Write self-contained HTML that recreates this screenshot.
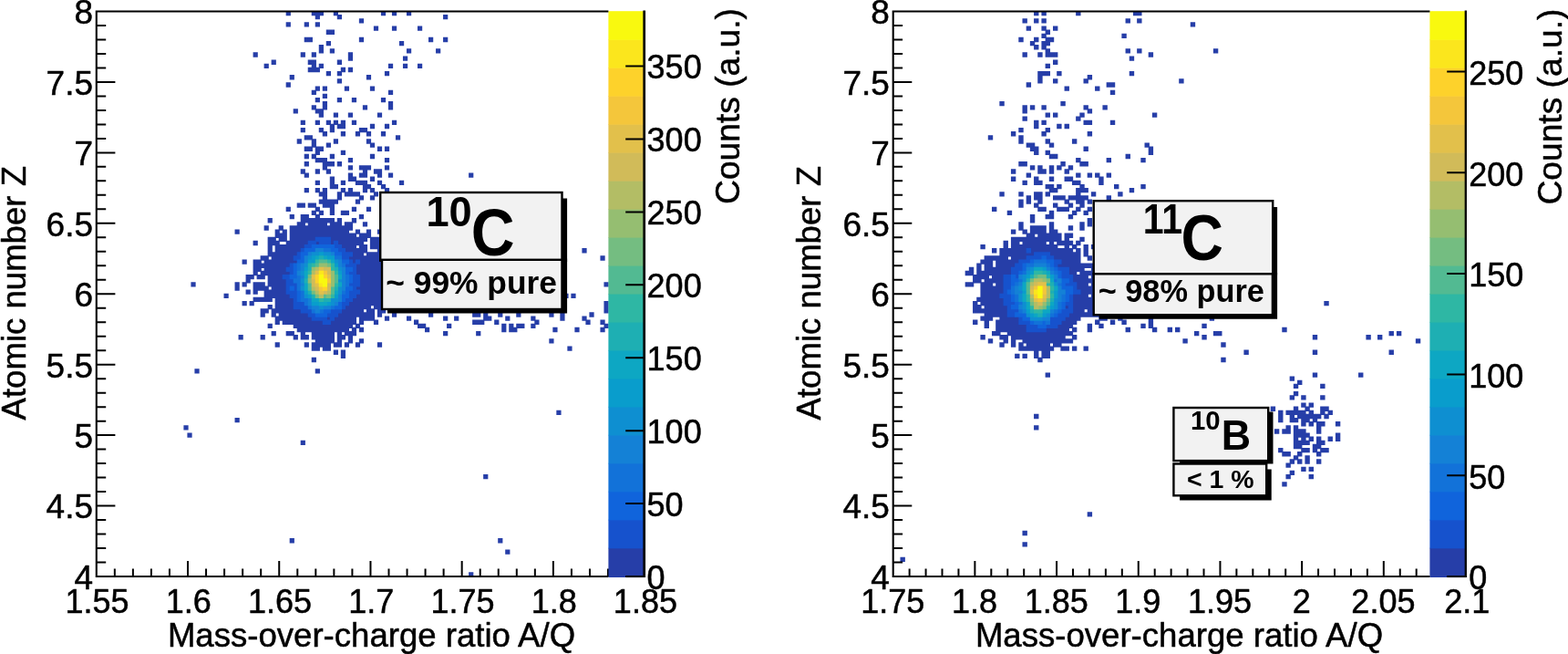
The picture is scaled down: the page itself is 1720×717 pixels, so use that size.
<!DOCTYPE html>
<html lang="en">
<head>
<meta charset="utf-8">
<title>Particle identification plots</title>
<style>
html,body{margin:0;padding:0;background:#fff;}
body{width:1720px;height:717px;overflow:hidden;}
svg{display:block;}
text{font-family:"Liberation Sans", sans-serif;}
</style>
</head>
<body>
<svg width="1720" height="717" viewBox="0 0 1720 717" role="img" aria-label="Particle identification plots: atomic number Z versus mass-over-charge ratio A/Q" font-family='"Liberation Sans", sans-serif' fill="#000">
<g>
<path fill="#263ea8" d="M201.42 466.2h5.21v5.33h-5.21zM205.43 474.46h5.21v5.33h-5.21zM209.43 309.26h5.21v5.33h-5.21zM213.44 404.25h5.21v5.33h-5.21zM245.52 321.65h5.21v5.33h-5.21zM257.54 457.94h5.21v5.33h-5.21zM257.54 313.39h5.21v5.33h-5.21zM257.54 309.26h5.21v5.33h-5.21zM257.54 251.44h5.21v5.33h-5.21zM261.55 367.08h5.21v5.33h-5.21zM265.56 329.91h5.21v5.33h-5.21zM265.56 309.26h5.21v5.33h-5.21zM265.56 284.48h5.21v5.33h-5.21zM269.57 317.52h5.21v5.33h-5.21zM269.57 305.13h5.21v5.33h-5.21zM269.57 301h5.21v5.33h-5.21zM273.58 329.91h5.21v5.33h-5.21zM273.58 301h5.21v5.33h-5.21zM277.59 325.78h5.21v5.33h-5.21zM277.59 317.52h5.21v5.33h-5.21zM277.59 313.39h5.21v5.33h-5.21zM277.59 309.26h5.21v5.33h-5.21zM277.59 296.87h5.21v5.33h-5.21zM277.59 292.74h5.21v5.33h-5.21zM277.59 288.61h5.21v5.33h-5.21zM277.59 284.48h5.21v5.33h-5.21zM277.59 263.83h5.21v5.33h-5.21zM277.59 57.33h5.21v5.33h-5.21zM281.6 325.78h5.21v5.33h-5.21zM281.6 313.39h5.21v5.33h-5.21zM281.6 309.26h5.21v5.33h-5.21zM281.6 301h5.21v5.33h-5.21zM281.6 292.74h5.21v5.33h-5.21zM281.6 288.61h5.21v5.33h-5.21zM281.6 284.48h5.21v5.33h-5.21zM285.61 367.08h5.21v5.33h-5.21zM285.61 342.3h5.21v5.33h-5.21zM285.61 338.17h5.21v5.33h-5.21zM285.61 325.78h5.21v5.33h-5.21zM285.61 313.39h5.21v5.33h-5.21zM285.61 309.26h5.21v5.33h-5.21zM285.61 301h5.21v5.33h-5.21zM285.61 296.87h5.21v5.33h-5.21zM285.61 288.61h5.21v5.33h-5.21zM285.61 280.35h5.21v5.33h-5.21zM289.61 338.17h5.21v5.33h-5.21zM289.61 325.78h5.21v5.33h-5.21zM289.61 321.65h5.21v5.33h-5.21zM289.61 317.52h5.21v5.33h-5.21zM289.61 313.39h5.21v5.33h-5.21zM289.61 296.87h5.21v5.33h-5.21zM289.61 292.74h5.21v5.33h-5.21zM289.61 288.61h5.21v5.33h-5.21zM289.61 284.48h5.21v5.33h-5.21zM289.61 280.35h5.21v5.33h-5.21zM289.61 247.31h5.21v5.33h-5.21zM289.61 69.72h5.21v5.33h-5.21zM293.62 354.69h5.21v5.33h-5.21zM293.62 334.04h5.21v5.33h-5.21zM293.62 325.78h5.21v5.33h-5.21zM293.62 321.65h5.21v5.33h-5.21zM293.62 317.52h5.21v5.33h-5.21zM293.62 309.26h5.21v5.33h-5.21zM293.62 305.13h5.21v5.33h-5.21zM293.62 301h5.21v5.33h-5.21zM293.62 296.87h5.21v5.33h-5.21zM293.62 292.74h5.21v5.33h-5.21zM293.62 288.61h5.21v5.33h-5.21zM293.62 284.48h5.21v5.33h-5.21zM293.62 276.22h5.21v5.33h-5.21zM293.62 272.09h5.21v5.33h-5.21zM293.62 267.96h5.21v5.33h-5.21zM293.62 263.83h5.21v5.33h-5.21zM293.62 259.7h5.21v5.33h-5.21zM293.62 239.05h5.21v5.33h-5.21zM297.63 362.95h5.21v5.33h-5.21zM297.63 342.3h5.21v5.33h-5.21zM297.63 338.17h5.21v5.33h-5.21zM297.63 321.65h5.21v5.33h-5.21zM297.63 317.52h5.21v5.33h-5.21zM297.63 313.39h5.21v5.33h-5.21zM297.63 309.26h5.21v5.33h-5.21zM297.63 305.13h5.21v5.33h-5.21zM297.63 301h5.21v5.33h-5.21zM297.63 296.87h5.21v5.33h-5.21zM297.63 292.74h5.21v5.33h-5.21zM297.63 288.61h5.21v5.33h-5.21zM297.63 284.48h5.21v5.33h-5.21zM297.63 280.35h5.21v5.33h-5.21zM297.63 276.22h5.21v5.33h-5.21zM297.63 263.83h5.21v5.33h-5.21zM297.63 259.7h5.21v5.33h-5.21zM297.63 65.59h5.21v5.33h-5.21zM301.64 375.34h5.21v5.33h-5.21zM301.64 350.56h5.21v5.33h-5.21zM301.64 346.43h5.21v5.33h-5.21zM301.64 338.17h5.21v5.33h-5.21zM301.64 334.04h5.21v5.33h-5.21zM301.64 329.91h5.21v5.33h-5.21zM301.64 325.78h5.21v5.33h-5.21zM301.64 321.65h5.21v5.33h-5.21zM301.64 317.52h5.21v5.33h-5.21zM301.64 313.39h5.21v5.33h-5.21zM301.64 309.26h5.21v5.33h-5.21zM301.64 305.13h5.21v5.33h-5.21zM301.64 301h5.21v5.33h-5.21zM301.64 296.87h5.21v5.33h-5.21zM301.64 292.74h5.21v5.33h-5.21zM301.64 288.61h5.21v5.33h-5.21zM301.64 284.48h5.21v5.33h-5.21zM301.64 280.35h5.21v5.33h-5.21zM301.64 276.22h5.21v5.33h-5.21zM301.64 272.09h5.21v5.33h-5.21zM301.64 267.96h5.21v5.33h-5.21zM301.64 263.83h5.21v5.33h-5.21zM301.64 255.57h5.21v5.33h-5.21zM301.64 251.44h5.21v5.33h-5.21zM305.65 346.43h5.21v5.33h-5.21zM305.65 342.3h5.21v5.33h-5.21zM305.65 338.17h5.21v5.33h-5.21zM305.65 334.04h5.21v5.33h-5.21zM305.65 329.91h5.21v5.33h-5.21zM305.65 325.78h5.21v5.33h-5.21zM305.65 321.65h5.21v5.33h-5.21zM305.65 317.52h5.21v5.33h-5.21zM305.65 313.39h5.21v5.33h-5.21zM305.65 309.26h5.21v5.33h-5.21zM305.65 305.13h5.21v5.33h-5.21zM305.65 301h5.21v5.33h-5.21zM305.65 296.87h5.21v5.33h-5.21zM305.65 292.74h5.21v5.33h-5.21zM305.65 288.61h5.21v5.33h-5.21zM305.65 284.48h5.21v5.33h-5.21zM305.65 280.35h5.21v5.33h-5.21zM305.65 276.22h5.21v5.33h-5.21zM305.65 272.09h5.21v5.33h-5.21zM305.65 267.96h5.21v5.33h-5.21zM305.65 259.7h5.21v5.33h-5.21zM305.65 255.57h5.21v5.33h-5.21zM305.65 247.31h5.21v5.33h-5.21zM309.66 350.56h5.21v5.33h-5.21zM309.66 346.43h5.21v5.33h-5.21zM309.66 342.3h5.21v5.33h-5.21zM309.66 338.17h5.21v5.33h-5.21zM309.66 334.04h5.21v5.33h-5.21zM309.66 329.91h5.21v5.33h-5.21zM309.66 325.78h5.21v5.33h-5.21zM309.66 321.65h5.21v5.33h-5.21zM309.66 317.52h5.21v5.33h-5.21zM309.66 313.39h5.21v5.33h-5.21zM309.66 309.26h5.21v5.33h-5.21zM309.66 305.13h5.21v5.33h-5.21zM309.66 296.87h5.21v5.33h-5.21zM309.66 292.74h5.21v5.33h-5.21zM309.66 288.61h5.21v5.33h-5.21zM309.66 284.48h5.21v5.33h-5.21zM309.66 280.35h5.21v5.33h-5.21zM309.66 276.22h5.21v5.33h-5.21zM309.66 272.09h5.21v5.33h-5.21zM309.66 267.96h5.21v5.33h-5.21zM309.66 259.7h5.21v5.33h-5.21zM309.66 255.57h5.21v5.33h-5.21zM309.66 251.44h5.21v5.33h-5.21zM313.67 362.95h5.21v5.33h-5.21zM313.67 350.56h5.21v5.33h-5.21zM313.67 346.43h5.21v5.33h-5.21zM313.67 342.3h5.21v5.33h-5.21zM313.67 338.17h5.21v5.33h-5.21zM313.67 334.04h5.21v5.33h-5.21zM313.67 329.91h5.21v5.33h-5.21zM313.67 325.78h5.21v5.33h-5.21zM313.67 321.65h5.21v5.33h-5.21zM313.67 296.87h5.21v5.33h-5.21zM313.67 288.61h5.21v5.33h-5.21zM313.67 284.48h5.21v5.33h-5.21zM313.67 280.35h5.21v5.33h-5.21zM313.67 276.22h5.21v5.33h-5.21zM313.67 272.09h5.21v5.33h-5.21zM313.67 267.96h5.21v5.33h-5.21zM313.67 263.83h5.21v5.33h-5.21zM313.67 226.66h5.21v5.33h-5.21zM313.67 90.37h5.21v5.33h-5.21zM313.67 24.29h5.21v5.33h-5.21zM313.67 11.9h5.21v5.33h-5.21zM317.68 590.1h5.21v5.33h-5.21zM317.68 362.95h5.21v5.33h-5.21zM317.68 350.56h5.21v5.33h-5.21zM317.68 346.43h5.21v5.33h-5.21zM317.68 342.3h5.21v5.33h-5.21zM317.68 338.17h5.21v5.33h-5.21zM317.68 334.04h5.21v5.33h-5.21zM317.68 329.91h5.21v5.33h-5.21zM317.68 325.78h5.21v5.33h-5.21zM317.68 284.48h5.21v5.33h-5.21zM317.68 280.35h5.21v5.33h-5.21zM317.68 276.22h5.21v5.33h-5.21zM317.68 272.09h5.21v5.33h-5.21zM317.68 267.96h5.21v5.33h-5.21zM317.68 263.83h5.21v5.33h-5.21zM317.68 259.7h5.21v5.33h-5.21zM317.68 255.57h5.21v5.33h-5.21zM317.68 251.44h5.21v5.33h-5.21zM317.68 247.31h5.21v5.33h-5.21zM317.68 234.92h5.21v5.33h-5.21zM317.68 82.11h5.21v5.33h-5.21zM321.69 367.08h5.21v5.33h-5.21zM321.69 354.69h5.21v5.33h-5.21zM321.69 350.56h5.21v5.33h-5.21zM321.69 346.43h5.21v5.33h-5.21zM321.69 342.3h5.21v5.33h-5.21zM321.69 338.17h5.21v5.33h-5.21zM321.69 284.48h5.21v5.33h-5.21zM321.69 276.22h5.21v5.33h-5.21zM321.69 272.09h5.21v5.33h-5.21zM321.69 267.96h5.21v5.33h-5.21zM321.69 263.83h5.21v5.33h-5.21zM321.69 259.7h5.21v5.33h-5.21zM321.69 255.57h5.21v5.33h-5.21zM321.69 251.44h5.21v5.33h-5.21zM321.69 247.31h5.21v5.33h-5.21zM321.69 119.28h5.21v5.33h-5.21zM325.69 358.82h5.21v5.33h-5.21zM325.69 354.69h5.21v5.33h-5.21zM325.69 350.56h5.21v5.33h-5.21zM325.69 346.43h5.21v5.33h-5.21zM325.69 342.3h5.21v5.33h-5.21zM325.69 338.17h5.21v5.33h-5.21zM325.69 272.09h5.21v5.33h-5.21zM325.69 267.96h5.21v5.33h-5.21zM325.69 263.83h5.21v5.33h-5.21zM325.69 259.7h5.21v5.33h-5.21zM325.69 255.57h5.21v5.33h-5.21zM325.69 251.44h5.21v5.33h-5.21zM325.69 247.31h5.21v5.33h-5.21zM325.69 243.18h5.21v5.33h-5.21zM325.69 222.53h5.21v5.33h-5.21zM325.69 152.32h5.21v5.33h-5.21zM329.7 482.72h5.21v5.33h-5.21zM329.7 367.08h5.21v5.33h-5.21zM329.7 362.95h5.21v5.33h-5.21zM329.7 358.82h5.21v5.33h-5.21zM329.7 354.69h5.21v5.33h-5.21zM329.7 350.56h5.21v5.33h-5.21zM329.7 346.43h5.21v5.33h-5.21zM329.7 342.3h5.21v5.33h-5.21zM329.7 267.96h5.21v5.33h-5.21zM329.7 263.83h5.21v5.33h-5.21zM329.7 259.7h5.21v5.33h-5.21zM329.7 255.57h5.21v5.33h-5.21zM329.7 251.44h5.21v5.33h-5.21zM329.7 247.31h5.21v5.33h-5.21zM329.7 243.18h5.21v5.33h-5.21zM329.7 239.05h5.21v5.33h-5.21zM329.7 234.92h5.21v5.33h-5.21zM329.7 222.53h5.21v5.33h-5.21zM329.7 185.36h5.21v5.33h-5.21zM329.7 139.93h5.21v5.33h-5.21zM329.7 131.67h5.21v5.33h-5.21zM329.7 57.33h5.21v5.33h-5.21zM333.71 375.34h5.21v5.33h-5.21zM333.71 367.08h5.21v5.33h-5.21zM333.71 358.82h5.21v5.33h-5.21zM333.71 354.69h5.21v5.33h-5.21zM333.71 350.56h5.21v5.33h-5.21zM333.71 346.43h5.21v5.33h-5.21zM333.71 342.3h5.21v5.33h-5.21zM333.71 263.83h5.21v5.33h-5.21zM333.71 259.7h5.21v5.33h-5.21zM333.71 255.57h5.21v5.33h-5.21zM333.71 251.44h5.21v5.33h-5.21zM333.71 247.31h5.21v5.33h-5.21zM333.71 239.05h5.21v5.33h-5.21zM333.71 234.92h5.21v5.33h-5.21zM333.71 206.01h5.21v5.33h-5.21zM333.71 189.49h5.21v5.33h-5.21zM333.71 177.1h5.21v5.33h-5.21zM333.71 168.84h5.21v5.33h-5.21zM333.71 160.58h5.21v5.33h-5.21zM333.71 148.19h5.21v5.33h-5.21zM333.71 40.81h5.21v5.33h-5.21zM333.71 24.29h5.21v5.33h-5.21zM337.72 358.82h5.21v5.33h-5.21zM337.72 354.69h5.21v5.33h-5.21zM337.72 350.56h5.21v5.33h-5.21zM337.72 346.43h5.21v5.33h-5.21zM337.72 259.7h5.21v5.33h-5.21zM337.72 255.57h5.21v5.33h-5.21zM337.72 251.44h5.21v5.33h-5.21zM337.72 247.31h5.21v5.33h-5.21zM337.72 243.18h5.21v5.33h-5.21zM337.72 239.05h5.21v5.33h-5.21zM337.72 222.53h5.21v5.33h-5.21zM337.72 160.58h5.21v5.33h-5.21zM337.72 148.19h5.21v5.33h-5.21zM337.72 73.85h5.21v5.33h-5.21zM337.72 65.59h5.21v5.33h-5.21zM337.72 40.81h5.21v5.33h-5.21zM341.73 391.86h5.21v5.33h-5.21zM341.73 379.47h5.21v5.33h-5.21zM341.73 375.34h5.21v5.33h-5.21zM341.73 367.08h5.21v5.33h-5.21zM341.73 362.95h5.21v5.33h-5.21zM341.73 358.82h5.21v5.33h-5.21zM341.73 354.69h5.21v5.33h-5.21zM341.73 350.56h5.21v5.33h-5.21zM341.73 259.7h5.21v5.33h-5.21zM341.73 255.57h5.21v5.33h-5.21zM341.73 251.44h5.21v5.33h-5.21zM341.73 247.31h5.21v5.33h-5.21zM341.73 243.18h5.21v5.33h-5.21zM341.73 239.05h5.21v5.33h-5.21zM341.73 230.79h5.21v5.33h-5.21zM341.73 222.53h5.21v5.33h-5.21zM341.73 168.84h5.21v5.33h-5.21zM341.73 156.45h5.21v5.33h-5.21zM341.73 152.32h5.21v5.33h-5.21zM341.73 115.15h5.21v5.33h-5.21zM341.73 98.63h5.21v5.33h-5.21zM341.73 73.85h5.21v5.33h-5.21zM341.73 69.72h5.21v5.33h-5.21zM341.73 65.59h5.21v5.33h-5.21zM341.73 57.33h5.21v5.33h-5.21zM341.73 11.9h5.21v5.33h-5.21zM345.74 404.25h5.21v5.33h-5.21zM345.74 379.47h5.21v5.33h-5.21zM345.74 375.34h5.21v5.33h-5.21zM345.74 371.21h5.21v5.33h-5.21zM345.74 367.08h5.21v5.33h-5.21zM345.74 362.95h5.21v5.33h-5.21zM345.74 358.82h5.21v5.33h-5.21zM345.74 354.69h5.21v5.33h-5.21zM345.74 350.56h5.21v5.33h-5.21zM345.74 263.83h5.21v5.33h-5.21zM345.74 255.57h5.21v5.33h-5.21zM345.74 251.44h5.21v5.33h-5.21zM345.74 247.31h5.21v5.33h-5.21zM345.74 243.18h5.21v5.33h-5.21zM345.74 239.05h5.21v5.33h-5.21zM345.74 234.92h5.21v5.33h-5.21zM345.74 226.66h5.21v5.33h-5.21zM345.74 206.01h5.21v5.33h-5.21zM345.74 197.75h5.21v5.33h-5.21zM345.74 185.36h5.21v5.33h-5.21zM345.74 172.97h5.21v5.33h-5.21zM345.74 164.71h5.21v5.33h-5.21zM345.74 160.58h5.21v5.33h-5.21zM345.74 131.67h5.21v5.33h-5.21zM345.74 119.28h5.21v5.33h-5.21zM345.74 106.89h5.21v5.33h-5.21zM345.74 94.5h5.21v5.33h-5.21zM345.74 73.85h5.21v5.33h-5.21zM345.74 24.29h5.21v5.33h-5.21zM345.74 16.03h5.21v5.33h-5.21zM345.74 11.9h5.21v5.33h-5.21zM349.75 375.34h5.21v5.33h-5.21zM349.75 371.21h5.21v5.33h-5.21zM349.75 367.08h5.21v5.33h-5.21zM349.75 362.95h5.21v5.33h-5.21zM349.75 358.82h5.21v5.33h-5.21zM349.75 354.69h5.21v5.33h-5.21zM349.75 350.56h5.21v5.33h-5.21zM349.75 255.57h5.21v5.33h-5.21zM349.75 251.44h5.21v5.33h-5.21zM349.75 247.31h5.21v5.33h-5.21zM349.75 243.18h5.21v5.33h-5.21zM349.75 239.05h5.21v5.33h-5.21zM349.75 230.79h5.21v5.33h-5.21zM349.75 218.4h5.21v5.33h-5.21zM349.75 210.14h5.21v5.33h-5.21zM349.75 172.97h5.21v5.33h-5.21zM349.75 160.58h5.21v5.33h-5.21zM349.75 139.93h5.21v5.33h-5.21zM349.75 123.41h5.21v5.33h-5.21zM349.75 119.28h5.21v5.33h-5.21zM349.75 69.72h5.21v5.33h-5.21zM349.75 53.2h5.21v5.33h-5.21zM349.75 49.07h5.21v5.33h-5.21zM349.75 11.9h5.21v5.33h-5.21zM353.76 379.47h5.21v5.33h-5.21zM353.76 375.34h5.21v5.33h-5.21zM353.76 371.21h5.21v5.33h-5.21zM353.76 367.08h5.21v5.33h-5.21zM353.76 362.95h5.21v5.33h-5.21zM353.76 358.82h5.21v5.33h-5.21zM353.76 354.69h5.21v5.33h-5.21zM353.76 255.57h5.21v5.33h-5.21zM353.76 251.44h5.21v5.33h-5.21zM353.76 247.31h5.21v5.33h-5.21zM353.76 243.18h5.21v5.33h-5.21zM353.76 239.05h5.21v5.33h-5.21zM353.76 222.53h5.21v5.33h-5.21zM353.76 218.4h5.21v5.33h-5.21zM353.76 214.27h5.21v5.33h-5.21zM353.76 210.14h5.21v5.33h-5.21zM353.76 206.01h5.21v5.33h-5.21zM353.76 181.23h5.21v5.33h-5.21zM353.76 177.1h5.21v5.33h-5.21zM353.76 172.97h5.21v5.33h-5.21zM353.76 144.06h5.21v5.33h-5.21zM353.76 115.15h5.21v5.33h-5.21zM353.76 111.02h5.21v5.33h-5.21zM353.76 102.76h5.21v5.33h-5.21zM353.76 94.5h5.21v5.33h-5.21zM357.77 379.47h5.21v5.33h-5.21zM357.77 375.34h5.21v5.33h-5.21zM357.77 371.21h5.21v5.33h-5.21zM357.77 367.08h5.21v5.33h-5.21zM357.77 362.95h5.21v5.33h-5.21zM357.77 358.82h5.21v5.33h-5.21zM357.77 354.69h5.21v5.33h-5.21zM357.77 346.43h5.21v5.33h-5.21zM357.77 255.57h5.21v5.33h-5.21zM357.77 251.44h5.21v5.33h-5.21zM357.77 247.31h5.21v5.33h-5.21zM357.77 239.05h5.21v5.33h-5.21zM357.77 222.53h5.21v5.33h-5.21zM357.77 218.4h5.21v5.33h-5.21zM357.77 185.36h5.21v5.33h-5.21zM357.77 177.1h5.21v5.33h-5.21zM357.77 156.45h5.21v5.33h-5.21zM357.77 131.67h5.21v5.33h-5.21zM357.77 77.98h5.21v5.33h-5.21zM357.77 44.94h5.21v5.33h-5.21zM357.77 32.55h5.21v5.33h-5.21zM361.78 371.21h5.21v5.33h-5.21zM361.78 367.08h5.21v5.33h-5.21zM361.78 362.95h5.21v5.33h-5.21zM361.78 358.82h5.21v5.33h-5.21zM361.78 354.69h5.21v5.33h-5.21zM361.78 350.56h5.21v5.33h-5.21zM361.78 263.83h5.21v5.33h-5.21zM361.78 259.7h5.21v5.33h-5.21zM361.78 255.57h5.21v5.33h-5.21zM361.78 251.44h5.21v5.33h-5.21zM361.78 247.31h5.21v5.33h-5.21zM361.78 243.18h5.21v5.33h-5.21zM361.78 239.05h5.21v5.33h-5.21zM361.78 230.79h5.21v5.33h-5.21zM361.78 226.66h5.21v5.33h-5.21zM361.78 222.53h5.21v5.33h-5.21zM361.78 218.4h5.21v5.33h-5.21zM361.78 201.88h5.21v5.33h-5.21zM361.78 197.75h5.21v5.33h-5.21zM361.78 193.62h5.21v5.33h-5.21zM361.78 177.1h5.21v5.33h-5.21zM361.78 168.84h5.21v5.33h-5.21zM361.78 139.93h5.21v5.33h-5.21zM361.78 135.8h5.21v5.33h-5.21zM361.78 53.2h5.21v5.33h-5.21zM361.78 32.55h5.21v5.33h-5.21zM365.79 383.6h5.21v5.33h-5.21zM365.79 375.34h5.21v5.33h-5.21zM365.79 358.82h5.21v5.33h-5.21zM365.79 354.69h5.21v5.33h-5.21zM365.79 350.56h5.21v5.33h-5.21zM365.79 346.43h5.21v5.33h-5.21zM365.79 259.7h5.21v5.33h-5.21zM365.79 255.57h5.21v5.33h-5.21zM365.79 251.44h5.21v5.33h-5.21zM365.79 247.31h5.21v5.33h-5.21zM365.79 243.18h5.21v5.33h-5.21zM365.79 218.4h5.21v5.33h-5.21zM365.79 201.88h5.21v5.33h-5.21zM365.79 152.32h5.21v5.33h-5.21zM365.79 131.67h5.21v5.33h-5.21zM365.79 123.41h5.21v5.33h-5.21zM365.79 11.9h5.21v5.33h-5.21zM369.79 375.34h5.21v5.33h-5.21zM369.79 371.21h5.21v5.33h-5.21zM369.79 367.08h5.21v5.33h-5.21zM369.79 362.95h5.21v5.33h-5.21zM369.79 358.82h5.21v5.33h-5.21zM369.79 354.69h5.21v5.33h-5.21zM369.79 350.56h5.21v5.33h-5.21zM369.79 346.43h5.21v5.33h-5.21zM369.79 342.3h5.21v5.33h-5.21zM369.79 263.83h5.21v5.33h-5.21zM369.79 259.7h5.21v5.33h-5.21zM369.79 255.57h5.21v5.33h-5.21zM369.79 251.44h5.21v5.33h-5.21zM369.79 247.31h5.21v5.33h-5.21zM369.79 243.18h5.21v5.33h-5.21zM369.79 239.05h5.21v5.33h-5.21zM369.79 214.27h5.21v5.33h-5.21zM369.79 210.14h5.21v5.33h-5.21zM369.79 177.1h5.21v5.33h-5.21zM369.79 135.8h5.21v5.33h-5.21zM369.79 106.89h5.21v5.33h-5.21zM369.79 86.24h5.21v5.33h-5.21zM369.79 77.98h5.21v5.33h-5.21zM369.79 65.59h5.21v5.33h-5.21zM369.79 16.03h5.21v5.33h-5.21zM373.8 387.73h5.21v5.33h-5.21zM373.8 383.6h5.21v5.33h-5.21zM373.8 367.08h5.21v5.33h-5.21zM373.8 358.82h5.21v5.33h-5.21zM373.8 354.69h5.21v5.33h-5.21zM373.8 350.56h5.21v5.33h-5.21zM373.8 346.43h5.21v5.33h-5.21zM373.8 342.3h5.21v5.33h-5.21zM373.8 338.17h5.21v5.33h-5.21zM373.8 267.96h5.21v5.33h-5.21zM373.8 263.83h5.21v5.33h-5.21zM373.8 259.7h5.21v5.33h-5.21zM373.8 255.57h5.21v5.33h-5.21zM373.8 251.44h5.21v5.33h-5.21zM373.8 247.31h5.21v5.33h-5.21zM373.8 230.79h5.21v5.33h-5.21zM373.8 206.01h5.21v5.33h-5.21zM373.8 197.75h5.21v5.33h-5.21zM373.8 164.71h5.21v5.33h-5.21zM373.8 144.06h5.21v5.33h-5.21zM373.8 135.8h5.21v5.33h-5.21zM373.8 131.67h5.21v5.33h-5.21zM373.8 73.85h5.21v5.33h-5.21zM377.81 375.34h5.21v5.33h-5.21zM377.81 362.95h5.21v5.33h-5.21zM377.81 358.82h5.21v5.33h-5.21zM377.81 354.69h5.21v5.33h-5.21zM377.81 350.56h5.21v5.33h-5.21zM377.81 346.43h5.21v5.33h-5.21zM377.81 342.3h5.21v5.33h-5.21zM377.81 338.17h5.21v5.33h-5.21zM377.81 334.04h5.21v5.33h-5.21zM377.81 272.09h5.21v5.33h-5.21zM377.81 267.96h5.21v5.33h-5.21zM377.81 263.83h5.21v5.33h-5.21zM377.81 259.7h5.21v5.33h-5.21zM377.81 255.57h5.21v5.33h-5.21zM377.81 251.44h5.21v5.33h-5.21zM377.81 247.31h5.21v5.33h-5.21zM377.81 243.18h5.21v5.33h-5.21zM377.81 230.79h5.21v5.33h-5.21zM377.81 210.14h5.21v5.33h-5.21zM377.81 94.5h5.21v5.33h-5.21zM381.82 371.21h5.21v5.33h-5.21zM381.82 367.08h5.21v5.33h-5.21zM381.82 362.95h5.21v5.33h-5.21zM381.82 354.69h5.21v5.33h-5.21zM381.82 350.56h5.21v5.33h-5.21zM381.82 346.43h5.21v5.33h-5.21zM381.82 342.3h5.21v5.33h-5.21zM381.82 338.17h5.21v5.33h-5.21zM381.82 334.04h5.21v5.33h-5.21zM381.82 329.91h5.21v5.33h-5.21zM381.82 280.35h5.21v5.33h-5.21zM381.82 272.09h5.21v5.33h-5.21zM381.82 267.96h5.21v5.33h-5.21zM381.82 263.83h5.21v5.33h-5.21zM381.82 259.7h5.21v5.33h-5.21zM381.82 255.57h5.21v5.33h-5.21zM381.82 247.31h5.21v5.33h-5.21zM381.82 243.18h5.21v5.33h-5.21zM381.82 210.14h5.21v5.33h-5.21zM381.82 206.01h5.21v5.33h-5.21zM381.82 193.62h5.21v5.33h-5.21zM381.82 189.49h5.21v5.33h-5.21zM381.82 181.23h5.21v5.33h-5.21zM381.82 172.97h5.21v5.33h-5.21zM381.82 123.41h5.21v5.33h-5.21zM381.82 73.85h5.21v5.33h-5.21zM381.82 61.46h5.21v5.33h-5.21zM381.82 57.33h5.21v5.33h-5.21zM385.83 362.95h5.21v5.33h-5.21zM385.83 358.82h5.21v5.33h-5.21zM385.83 350.56h5.21v5.33h-5.21zM385.83 346.43h5.21v5.33h-5.21zM385.83 342.3h5.21v5.33h-5.21zM385.83 338.17h5.21v5.33h-5.21zM385.83 334.04h5.21v5.33h-5.21zM385.83 329.91h5.21v5.33h-5.21zM385.83 325.78h5.21v5.33h-5.21zM385.83 284.48h5.21v5.33h-5.21zM385.83 280.35h5.21v5.33h-5.21zM385.83 276.22h5.21v5.33h-5.21zM385.83 272.09h5.21v5.33h-5.21zM385.83 267.96h5.21v5.33h-5.21zM385.83 263.83h5.21v5.33h-5.21zM385.83 259.7h5.21v5.33h-5.21zM385.83 255.57h5.21v5.33h-5.21zM385.83 239.05h5.21v5.33h-5.21zM385.83 226.66h5.21v5.33h-5.21zM385.83 210.14h5.21v5.33h-5.21zM385.83 193.62h5.21v5.33h-5.21zM385.83 131.67h5.21v5.33h-5.21zM385.83 106.89h5.21v5.33h-5.21zM389.84 375.34h5.21v5.33h-5.21zM389.84 354.69h5.21v5.33h-5.21zM389.84 342.3h5.21v5.33h-5.21zM389.84 338.17h5.21v5.33h-5.21zM389.84 334.04h5.21v5.33h-5.21zM389.84 329.91h5.21v5.33h-5.21zM389.84 325.78h5.21v5.33h-5.21zM389.84 321.65h5.21v5.33h-5.21zM389.84 313.39h5.21v5.33h-5.21zM389.84 296.87h5.21v5.33h-5.21zM389.84 292.74h5.21v5.33h-5.21zM389.84 288.61h5.21v5.33h-5.21zM389.84 280.35h5.21v5.33h-5.21zM389.84 276.22h5.21v5.33h-5.21zM389.84 272.09h5.21v5.33h-5.21zM389.84 263.83h5.21v5.33h-5.21zM389.84 259.7h5.21v5.33h-5.21zM389.84 251.44h5.21v5.33h-5.21zM389.84 218.4h5.21v5.33h-5.21zM389.84 210.14h5.21v5.33h-5.21zM389.84 197.75h5.21v5.33h-5.21zM389.84 144.06h5.21v5.33h-5.21zM393.85 371.21h5.21v5.33h-5.21zM393.85 358.82h5.21v5.33h-5.21zM393.85 350.56h5.21v5.33h-5.21zM393.85 346.43h5.21v5.33h-5.21zM393.85 342.3h5.21v5.33h-5.21zM393.85 338.17h5.21v5.33h-5.21zM393.85 334.04h5.21v5.33h-5.21zM393.85 329.91h5.21v5.33h-5.21zM393.85 325.78h5.21v5.33h-5.21zM393.85 321.65h5.21v5.33h-5.21zM393.85 317.52h5.21v5.33h-5.21zM393.85 313.39h5.21v5.33h-5.21zM393.85 309.26h5.21v5.33h-5.21zM393.85 305.13h5.21v5.33h-5.21zM393.85 301h5.21v5.33h-5.21zM393.85 296.87h5.21v5.33h-5.21zM393.85 292.74h5.21v5.33h-5.21zM393.85 288.61h5.21v5.33h-5.21zM393.85 284.48h5.21v5.33h-5.21zM393.85 280.35h5.21v5.33h-5.21zM393.85 276.22h5.21v5.33h-5.21zM393.85 272.09h5.21v5.33h-5.21zM393.85 267.96h5.21v5.33h-5.21zM393.85 263.83h5.21v5.33h-5.21zM393.85 259.7h5.21v5.33h-5.21zM393.85 255.57h5.21v5.33h-5.21zM393.85 234.92h5.21v5.33h-5.21zM393.85 214.27h5.21v5.33h-5.21zM393.85 197.75h5.21v5.33h-5.21zM393.85 189.49h5.21v5.33h-5.21zM393.85 181.23h5.21v5.33h-5.21zM393.85 139.93h5.21v5.33h-5.21zM393.85 40.81h5.21v5.33h-5.21zM393.85 20.16h5.21v5.33h-5.21zM397.86 346.43h5.21v5.33h-5.21zM397.86 342.3h5.21v5.33h-5.21zM397.86 334.04h5.21v5.33h-5.21zM397.86 329.91h5.21v5.33h-5.21zM397.86 325.78h5.21v5.33h-5.21zM397.86 321.65h5.21v5.33h-5.21zM397.86 317.52h5.21v5.33h-5.21zM397.86 313.39h5.21v5.33h-5.21zM397.86 309.26h5.21v5.33h-5.21zM397.86 305.13h5.21v5.33h-5.21zM397.86 301h5.21v5.33h-5.21zM397.86 296.87h5.21v5.33h-5.21zM397.86 292.74h5.21v5.33h-5.21zM397.86 288.61h5.21v5.33h-5.21zM397.86 284.48h5.21v5.33h-5.21zM397.86 280.35h5.21v5.33h-5.21zM397.86 272.09h5.21v5.33h-5.21zM397.86 267.96h5.21v5.33h-5.21zM397.86 259.7h5.21v5.33h-5.21zM397.86 255.57h5.21v5.33h-5.21zM397.86 243.18h5.21v5.33h-5.21zM397.86 206.01h5.21v5.33h-5.21zM397.86 201.88h5.21v5.33h-5.21zM397.86 197.75h5.21v5.33h-5.21zM397.86 189.49h5.21v5.33h-5.21zM397.86 185.36h5.21v5.33h-5.21zM397.86 181.23h5.21v5.33h-5.21zM397.86 139.93h5.21v5.33h-5.21zM397.86 115.15h5.21v5.33h-5.21zM401.87 346.43h5.21v5.33h-5.21zM401.87 342.3h5.21v5.33h-5.21zM401.87 338.17h5.21v5.33h-5.21zM401.87 334.04h5.21v5.33h-5.21zM401.87 329.91h5.21v5.33h-5.21zM401.87 325.78h5.21v5.33h-5.21zM401.87 321.65h5.21v5.33h-5.21zM401.87 317.52h5.21v5.33h-5.21zM401.87 313.39h5.21v5.33h-5.21zM401.87 309.26h5.21v5.33h-5.21zM401.87 305.13h5.21v5.33h-5.21zM401.87 301h5.21v5.33h-5.21zM401.87 296.87h5.21v5.33h-5.21zM401.87 292.74h5.21v5.33h-5.21zM401.87 288.61h5.21v5.33h-5.21zM401.87 284.48h5.21v5.33h-5.21zM401.87 280.35h5.21v5.33h-5.21zM401.87 276.22h5.21v5.33h-5.21zM401.87 255.57h5.21v5.33h-5.21zM401.87 251.44h5.21v5.33h-5.21zM401.87 226.66h5.21v5.33h-5.21zM401.87 201.88h5.21v5.33h-5.21zM401.87 181.23h5.21v5.33h-5.21zM401.87 152.32h5.21v5.33h-5.21zM401.87 144.06h5.21v5.33h-5.21zM401.87 82.11h5.21v5.33h-5.21zM405.88 346.43h5.21v5.33h-5.21zM405.88 342.3h5.21v5.33h-5.21zM405.88 338.17h5.21v5.33h-5.21zM405.88 329.91h5.21v5.33h-5.21zM405.88 325.78h5.21v5.33h-5.21zM405.88 321.65h5.21v5.33h-5.21zM405.88 317.52h5.21v5.33h-5.21zM405.88 313.39h5.21v5.33h-5.21zM405.88 309.26h5.21v5.33h-5.21zM405.88 305.13h5.21v5.33h-5.21zM405.88 301h5.21v5.33h-5.21zM405.88 296.87h5.21v5.33h-5.21zM405.88 292.74h5.21v5.33h-5.21zM405.88 288.61h5.21v5.33h-5.21zM405.88 284.48h5.21v5.33h-5.21zM405.88 280.35h5.21v5.33h-5.21zM405.88 276.22h5.21v5.33h-5.21zM405.88 267.96h5.21v5.33h-5.21zM405.88 263.83h5.21v5.33h-5.21zM405.88 259.7h5.21v5.33h-5.21zM405.88 214.27h5.21v5.33h-5.21zM405.88 206.01h5.21v5.33h-5.21zM405.88 193.62h5.21v5.33h-5.21zM405.88 168.84h5.21v5.33h-5.21zM405.88 156.45h5.21v5.33h-5.21zM405.88 135.8h5.21v5.33h-5.21zM405.88 94.5h5.21v5.33h-5.21zM409.88 350.56h5.21v5.33h-5.21zM409.88 334.04h5.21v5.33h-5.21zM409.88 329.91h5.21v5.33h-5.21zM409.88 325.78h5.21v5.33h-5.21zM409.88 321.65h5.21v5.33h-5.21zM409.88 317.52h5.21v5.33h-5.21zM409.88 313.39h5.21v5.33h-5.21zM409.88 309.26h5.21v5.33h-5.21zM409.88 305.13h5.21v5.33h-5.21zM409.88 301h5.21v5.33h-5.21zM409.88 296.87h5.21v5.33h-5.21zM409.88 292.74h5.21v5.33h-5.21zM409.88 288.61h5.21v5.33h-5.21zM409.88 284.48h5.21v5.33h-5.21zM409.88 280.35h5.21v5.33h-5.21zM409.88 276.22h5.21v5.33h-5.21zM409.88 267.96h5.21v5.33h-5.21zM409.88 263.83h5.21v5.33h-5.21zM409.88 259.7h5.21v5.33h-5.21zM409.88 210.14h5.21v5.33h-5.21zM409.88 185.36h5.21v5.33h-5.21zM409.88 28.42h5.21v5.33h-5.21zM413.89 375.34h5.21v5.33h-5.21zM413.89 342.3h5.21v5.33h-5.21zM413.89 338.17h5.21v5.33h-5.21zM413.89 334.04h5.21v5.33h-5.21zM413.89 329.91h5.21v5.33h-5.21zM413.89 325.78h5.21v5.33h-5.21zM413.89 321.65h5.21v5.33h-5.21zM413.89 317.52h5.21v5.33h-5.21zM413.89 313.39h5.21v5.33h-5.21zM413.89 309.26h5.21v5.33h-5.21zM413.89 305.13h5.21v5.33h-5.21zM413.89 301h5.21v5.33h-5.21zM413.89 296.87h5.21v5.33h-5.21zM413.89 292.74h5.21v5.33h-5.21zM413.89 288.61h5.21v5.33h-5.21zM413.89 284.48h5.21v5.33h-5.21zM413.89 280.35h5.21v5.33h-5.21zM413.89 276.22h5.21v5.33h-5.21zM413.89 272.09h5.21v5.33h-5.21zM413.89 267.96h5.21v5.33h-5.21zM413.89 263.83h5.21v5.33h-5.21zM413.89 259.7h5.21v5.33h-5.21zM413.89 251.44h5.21v5.33h-5.21zM413.89 197.75h5.21v5.33h-5.21zM413.89 189.49h5.21v5.33h-5.21zM413.89 185.36h5.21v5.33h-5.21zM413.89 160.58h5.21v5.33h-5.21zM413.89 123.41h5.21v5.33h-5.21zM417.9 338.17h5.21v5.33h-5.21zM417.9 201.88h5.21v5.33h-5.21zM417.9 144.06h5.21v5.33h-5.21zM417.9 106.89h5.21v5.33h-5.21zM417.9 11.9h5.21v5.33h-5.21zM421.91 346.43h5.21v5.33h-5.21zM421.91 206.01h5.21v5.33h-5.21zM421.91 181.23h5.21v5.33h-5.21zM421.91 172.97h5.21v5.33h-5.21zM421.91 160.58h5.21v5.33h-5.21zM421.91 135.8h5.21v5.33h-5.21zM421.91 77.98h5.21v5.33h-5.21zM425.92 189.49h5.21v5.33h-5.21zM425.92 115.15h5.21v5.33h-5.21zM425.92 111.02h5.21v5.33h-5.21zM425.92 98.63h5.21v5.33h-5.21zM425.92 69.72h5.21v5.33h-5.21zM429.93 342.3h5.21v5.33h-5.21zM429.93 131.67h5.21v5.33h-5.21zM429.93 28.42h5.21v5.33h-5.21zM429.93 11.9h5.21v5.33h-5.21zM433.94 148.19h5.21v5.33h-5.21zM437.95 197.75h5.21v5.33h-5.21zM437.95 44.94h5.21v5.33h-5.21zM441.96 69.72h5.21v5.33h-5.21zM441.96 61.46h5.21v5.33h-5.21zM445.97 346.43h5.21v5.33h-5.21zM445.97 53.2h5.21v5.33h-5.21zM445.97 11.9h5.21v5.33h-5.21zM453.98 350.56h5.21v5.33h-5.21zM457.99 354.69h5.21v5.33h-5.21zM457.99 69.72h5.21v5.33h-5.21zM457.99 28.42h5.21v5.33h-5.21zM462 354.69h5.21v5.33h-5.21zM466.01 358.82h5.21v5.33h-5.21zM470.02 342.3h5.21v5.33h-5.21zM470.02 40.81h5.21v5.33h-5.21zM478.04 53.2h5.21v5.33h-5.21zM486.06 362.95h5.21v5.33h-5.21zM486.06 346.43h5.21v5.33h-5.21zM486.06 40.81h5.21v5.33h-5.21zM486.06 16.03h5.21v5.33h-5.21zM490.06 354.69h5.21v5.33h-5.21zM498.08 346.43h5.21v5.33h-5.21zM514.12 627.27h5.21v5.33h-5.21zM514.12 189.49h5.21v5.33h-5.21zM518.13 350.56h5.21v5.33h-5.21zM518.13 342.3h5.21v5.33h-5.21zM522.14 362.95h5.21v5.33h-5.21zM522.14 350.56h5.21v5.33h-5.21zM522.14 342.3h5.21v5.33h-5.21zM526.14 350.56h5.21v5.33h-5.21zM530.15 519.89h5.21v5.33h-5.21zM530.15 346.43h5.21v5.33h-5.21zM530.15 342.3h5.21v5.33h-5.21zM534.16 346.43h5.21v5.33h-5.21zM542.18 350.56h5.21v5.33h-5.21zM546.19 590.1h5.21v5.33h-5.21zM546.19 342.3h5.21v5.33h-5.21zM550.2 358.82h5.21v5.33h-5.21zM550.2 354.69h5.21v5.33h-5.21zM554.21 602.49h5.21v5.33h-5.21zM554.21 346.43h5.21v5.33h-5.21zM558.22 358.82h5.21v5.33h-5.21zM558.22 354.69h5.21v5.33h-5.21zM562.23 358.82h5.21v5.33h-5.21zM566.24 354.69h5.21v5.33h-5.21zM566.24 342.3h5.21v5.33h-5.21zM570.24 354.69h5.21v5.33h-5.21zM582.27 354.69h5.21v5.33h-5.21zM582.27 346.43h5.21v5.33h-5.21zM586.28 350.56h5.21v5.33h-5.21zM602.32 371.21h5.21v5.33h-5.21zM602.32 342.3h5.21v5.33h-5.21zM606.33 358.82h5.21v5.33h-5.21zM610.33 449.68h5.21v5.33h-5.21zM614.34 346.43h5.21v5.33h-5.21zM614.34 342.3h5.21v5.33h-5.21zM618.35 321.65h5.21v5.33h-5.21zM622.36 379.47h5.21v5.33h-5.21zM626.37 321.65h5.21v5.33h-5.21zM630.38 358.82h5.21v5.33h-5.21zM638.4 346.43h5.21v5.33h-5.21zM638.4 272.09h5.21v5.33h-5.21zM642.41 350.56h5.21v5.33h-5.21zM646.41 342.3h5.21v5.33h-5.21zM658.44 358.82h5.21v5.33h-5.21zM658.44 350.56h5.21v5.33h-5.21zM658.44 280.35h5.21v5.33h-5.21zM662.45 354.69h5.21v5.33h-5.21zM662.45 338.17h5.21v5.33h-5.21zM662.45 334.04h5.21v5.33h-5.21zM662.45 329.91h5.21v5.33h-5.21zM662.45 309.26h5.21v5.33h-5.21z"/>
<path fill="#1652cd" d="M309.66 301h5.21v5.33h-5.21zM313.67 317.52h5.21v5.33h-5.21zM313.67 313.39h5.21v5.33h-5.21zM313.67 309.26h5.21v5.33h-5.21zM313.67 305.13h5.21v5.33h-5.21zM313.67 301h5.21v5.33h-5.21zM313.67 292.74h5.21v5.33h-5.21zM317.68 321.65h5.21v5.33h-5.21zM317.68 317.52h5.21v5.33h-5.21zM317.68 309.26h5.21v5.33h-5.21zM317.68 305.13h5.21v5.33h-5.21zM317.68 296.87h5.21v5.33h-5.21zM317.68 292.74h5.21v5.33h-5.21zM317.68 288.61h5.21v5.33h-5.21zM321.69 334.04h5.21v5.33h-5.21zM321.69 329.91h5.21v5.33h-5.21zM321.69 325.78h5.21v5.33h-5.21zM321.69 321.65h5.21v5.33h-5.21zM321.69 317.52h5.21v5.33h-5.21zM321.69 313.39h5.21v5.33h-5.21zM321.69 309.26h5.21v5.33h-5.21zM321.69 280.35h5.21v5.33h-5.21zM325.69 334.04h5.21v5.33h-5.21zM325.69 329.91h5.21v5.33h-5.21zM325.69 280.35h5.21v5.33h-5.21zM325.69 276.22h5.21v5.33h-5.21zM329.7 338.17h5.21v5.33h-5.21zM329.7 334.04h5.21v5.33h-5.21zM329.7 329.91h5.21v5.33h-5.21zM329.7 272.09h5.21v5.33h-5.21zM333.71 338.17h5.21v5.33h-5.21zM333.71 334.04h5.21v5.33h-5.21zM333.71 267.96h5.21v5.33h-5.21zM337.72 342.3h5.21v5.33h-5.21zM337.72 338.17h5.21v5.33h-5.21zM337.72 267.96h5.21v5.33h-5.21zM337.72 263.83h5.21v5.33h-5.21zM341.73 346.43h5.21v5.33h-5.21zM341.73 342.3h5.21v5.33h-5.21zM341.73 263.83h5.21v5.33h-5.21zM345.74 346.43h5.21v5.33h-5.21zM345.74 259.7h5.21v5.33h-5.21zM349.75 346.43h5.21v5.33h-5.21zM349.75 263.83h5.21v5.33h-5.21zM349.75 259.7h5.21v5.33h-5.21zM353.76 350.56h5.21v5.33h-5.21zM353.76 346.43h5.21v5.33h-5.21zM353.76 263.83h5.21v5.33h-5.21zM353.76 259.7h5.21v5.33h-5.21zM357.77 350.56h5.21v5.33h-5.21zM357.77 342.3h5.21v5.33h-5.21zM357.77 263.83h5.21v5.33h-5.21zM357.77 259.7h5.21v5.33h-5.21zM361.78 346.43h5.21v5.33h-5.21zM361.78 342.3h5.21v5.33h-5.21zM361.78 338.17h5.21v5.33h-5.21zM365.79 342.3h5.21v5.33h-5.21zM365.79 338.17h5.21v5.33h-5.21zM365.79 267.96h5.21v5.33h-5.21zM365.79 263.83h5.21v5.33h-5.21zM369.79 338.17h5.21v5.33h-5.21zM369.79 272.09h5.21v5.33h-5.21zM369.79 267.96h5.21v5.33h-5.21zM373.8 334.04h5.21v5.33h-5.21zM373.8 329.91h5.21v5.33h-5.21zM373.8 280.35h5.21v5.33h-5.21zM373.8 276.22h5.21v5.33h-5.21zM373.8 272.09h5.21v5.33h-5.21zM377.81 329.91h5.21v5.33h-5.21zM377.81 325.78h5.21v5.33h-5.21zM377.81 288.61h5.21v5.33h-5.21zM377.81 280.35h5.21v5.33h-5.21zM377.81 276.22h5.21v5.33h-5.21zM381.82 325.78h5.21v5.33h-5.21zM381.82 321.65h5.21v5.33h-5.21zM381.82 317.52h5.21v5.33h-5.21zM381.82 309.26h5.21v5.33h-5.21zM381.82 296.87h5.21v5.33h-5.21zM381.82 288.61h5.21v5.33h-5.21zM381.82 284.48h5.21v5.33h-5.21zM381.82 276.22h5.21v5.33h-5.21zM385.83 321.65h5.21v5.33h-5.21zM385.83 317.52h5.21v5.33h-5.21zM385.83 313.39h5.21v5.33h-5.21zM385.83 309.26h5.21v5.33h-5.21zM385.83 305.13h5.21v5.33h-5.21zM385.83 301h5.21v5.33h-5.21zM385.83 296.87h5.21v5.33h-5.21zM385.83 292.74h5.21v5.33h-5.21zM385.83 288.61h5.21v5.33h-5.21zM389.84 317.52h5.21v5.33h-5.21zM389.84 309.26h5.21v5.33h-5.21zM389.84 305.13h5.21v5.33h-5.21zM389.84 301h5.21v5.33h-5.21zM389.84 284.48h5.21v5.33h-5.21z"/>
<path fill="#1064dc" d="M317.68 313.39h5.21v5.33h-5.21zM317.68 301h5.21v5.33h-5.21zM321.69 301h5.21v5.33h-5.21zM321.69 296.87h5.21v5.33h-5.21zM321.69 292.74h5.21v5.33h-5.21zM321.69 288.61h5.21v5.33h-5.21zM325.69 325.78h5.21v5.33h-5.21zM325.69 321.65h5.21v5.33h-5.21zM325.69 317.52h5.21v5.33h-5.21zM325.69 284.48h5.21v5.33h-5.21zM329.7 284.48h5.21v5.33h-5.21zM329.7 280.35h5.21v5.33h-5.21zM329.7 276.22h5.21v5.33h-5.21zM333.71 276.22h5.21v5.33h-5.21zM333.71 272.09h5.21v5.33h-5.21zM337.72 272.09h5.21v5.33h-5.21zM341.73 272.09h5.21v5.33h-5.21zM341.73 267.96h5.21v5.33h-5.21zM345.74 342.3h5.21v5.33h-5.21zM345.74 267.96h5.21v5.33h-5.21zM349.75 342.3h5.21v5.33h-5.21zM349.75 267.96h5.21v5.33h-5.21zM353.76 342.3h5.21v5.33h-5.21zM353.76 338.17h5.21v5.33h-5.21zM353.76 267.96h5.21v5.33h-5.21zM357.77 338.17h5.21v5.33h-5.21zM357.77 267.96h5.21v5.33h-5.21zM361.78 272.09h5.21v5.33h-5.21zM361.78 267.96h5.21v5.33h-5.21zM365.79 334.04h5.21v5.33h-5.21zM365.79 276.22h5.21v5.33h-5.21zM365.79 272.09h5.21v5.33h-5.21zM369.79 334.04h5.21v5.33h-5.21zM369.79 329.91h5.21v5.33h-5.21zM369.79 276.22h5.21v5.33h-5.21zM373.8 325.78h5.21v5.33h-5.21zM373.8 321.65h5.21v5.33h-5.21zM373.8 284.48h5.21v5.33h-5.21zM377.81 321.65h5.21v5.33h-5.21zM377.81 317.52h5.21v5.33h-5.21zM377.81 313.39h5.21v5.33h-5.21zM377.81 296.87h5.21v5.33h-5.21zM377.81 292.74h5.21v5.33h-5.21zM377.81 284.48h5.21v5.33h-5.21zM381.82 313.39h5.21v5.33h-5.21zM381.82 305.13h5.21v5.33h-5.21zM381.82 301h5.21v5.33h-5.21zM381.82 292.74h5.21v5.33h-5.21z"/>
<path fill="#1272d9" d="M321.69 305.13h5.21v5.33h-5.21zM325.69 313.39h5.21v5.33h-5.21zM325.69 309.26h5.21v5.33h-5.21zM325.69 305.13h5.21v5.33h-5.21zM325.69 301h5.21v5.33h-5.21zM325.69 292.74h5.21v5.33h-5.21zM325.69 288.61h5.21v5.33h-5.21zM329.7 325.78h5.21v5.33h-5.21zM329.7 321.65h5.21v5.33h-5.21zM329.7 317.52h5.21v5.33h-5.21zM333.71 329.91h5.21v5.33h-5.21zM333.71 325.78h5.21v5.33h-5.21zM337.72 334.04h5.21v5.33h-5.21zM341.73 338.17h5.21v5.33h-5.21zM349.75 338.17h5.21v5.33h-5.21zM353.76 272.09h5.21v5.33h-5.21zM357.77 272.09h5.21v5.33h-5.21zM361.78 334.04h5.21v5.33h-5.21zM365.79 280.35h5.21v5.33h-5.21zM369.79 280.35h5.21v5.33h-5.21zM373.8 317.52h5.21v5.33h-5.21zM373.8 288.61h5.21v5.33h-5.21zM377.81 309.26h5.21v5.33h-5.21zM377.81 305.13h5.21v5.33h-5.21zM377.81 301h5.21v5.33h-5.21z"/>
<path fill="#1481d6" d="M325.69 296.87h5.21v5.33h-5.21zM329.7 309.26h5.21v5.33h-5.21zM329.7 301h5.21v5.33h-5.21zM329.7 292.74h5.21v5.33h-5.21zM329.7 288.61h5.21v5.33h-5.21zM333.71 284.48h5.21v5.33h-5.21zM333.71 280.35h5.21v5.33h-5.21zM337.72 329.91h5.21v5.33h-5.21zM337.72 325.78h5.21v5.33h-5.21zM337.72 276.22h5.21v5.33h-5.21zM341.73 334.04h5.21v5.33h-5.21zM345.74 338.17h5.21v5.33h-5.21zM345.74 334.04h5.21v5.33h-5.21zM345.74 272.09h5.21v5.33h-5.21zM349.75 272.09h5.21v5.33h-5.21zM353.76 334.04h5.21v5.33h-5.21zM357.77 334.04h5.21v5.33h-5.21zM361.78 276.22h5.21v5.33h-5.21zM365.79 329.91h5.21v5.33h-5.21zM369.79 325.78h5.21v5.33h-5.21zM369.79 321.65h5.21v5.33h-5.21zM369.79 288.61h5.21v5.33h-5.21zM369.79 284.48h5.21v5.33h-5.21zM373.8 313.39h5.21v5.33h-5.21zM373.8 309.26h5.21v5.33h-5.21zM373.8 305.13h5.21v5.33h-5.21zM373.8 301h5.21v5.33h-5.21zM373.8 296.87h5.21v5.33h-5.21zM373.8 292.74h5.21v5.33h-5.21z"/>
<path fill="#0e8fd1" d="M329.7 313.39h5.21v5.33h-5.21zM329.7 305.13h5.21v5.33h-5.21zM329.7 296.87h5.21v5.33h-5.21zM333.71 321.65h5.21v5.33h-5.21zM333.71 288.61h5.21v5.33h-5.21zM337.72 280.35h5.21v5.33h-5.21zM341.73 276.22h5.21v5.33h-5.21zM345.74 276.22h5.21v5.33h-5.21zM349.75 334.04h5.21v5.33h-5.21zM353.76 276.22h5.21v5.33h-5.21zM357.77 276.22h5.21v5.33h-5.21zM361.78 329.91h5.21v5.33h-5.21zM361.78 325.78h5.21v5.33h-5.21zM365.79 325.78h5.21v5.33h-5.21zM365.79 284.48h5.21v5.33h-5.21zM369.79 317.52h5.21v5.33h-5.21zM369.79 313.39h5.21v5.33h-5.21zM369.79 305.13h5.21v5.33h-5.21zM369.79 292.74h5.21v5.33h-5.21z"/>
<path fill="#099dcc" d="M333.71 317.52h5.21v5.33h-5.21zM333.71 292.74h5.21v5.33h-5.21zM337.72 321.65h5.21v5.33h-5.21zM337.72 284.48h5.21v5.33h-5.21zM341.73 329.91h5.21v5.33h-5.21zM341.73 284.48h5.21v5.33h-5.21zM341.73 280.35h5.21v5.33h-5.21zM345.74 329.91h5.21v5.33h-5.21zM349.75 276.22h5.21v5.33h-5.21zM357.77 329.91h5.21v5.33h-5.21zM357.77 280.35h5.21v5.33h-5.21zM361.78 280.35h5.21v5.33h-5.21zM365.79 321.65h5.21v5.33h-5.21zM365.79 288.61h5.21v5.33h-5.21zM369.79 296.87h5.21v5.33h-5.21z"/>
<path fill="#0da7c3" d="M333.71 313.39h5.21v5.33h-5.21zM333.71 309.26h5.21v5.33h-5.21zM333.71 301h5.21v5.33h-5.21zM333.71 296.87h5.21v5.33h-5.21zM341.73 325.78h5.21v5.33h-5.21zM345.74 325.78h5.21v5.33h-5.21zM345.74 280.35h5.21v5.33h-5.21zM349.75 329.91h5.21v5.33h-5.21zM353.76 329.91h5.21v5.33h-5.21zM353.76 280.35h5.21v5.33h-5.21zM361.78 284.48h5.21v5.33h-5.21zM365.79 317.52h5.21v5.33h-5.21zM369.79 309.26h5.21v5.33h-5.21zM369.79 301h5.21v5.33h-5.21z"/>
<path fill="#1eafb3" d="M333.71 305.13h5.21v5.33h-5.21zM337.72 317.52h5.21v5.33h-5.21zM337.72 292.74h5.21v5.33h-5.21zM337.72 288.61h5.21v5.33h-5.21zM341.73 321.65h5.21v5.33h-5.21zM349.75 280.35h5.21v5.33h-5.21zM353.76 325.78h5.21v5.33h-5.21zM357.77 325.78h5.21v5.33h-5.21zM365.79 313.39h5.21v5.33h-5.21zM365.79 292.74h5.21v5.33h-5.21z"/>
<path fill="#2eb7a4" d="M337.72 296.87h5.21v5.33h-5.21zM341.73 288.61h5.21v5.33h-5.21zM345.74 284.48h5.21v5.33h-5.21zM349.75 325.78h5.21v5.33h-5.21zM357.77 284.48h5.21v5.33h-5.21zM361.78 321.65h5.21v5.33h-5.21zM361.78 292.74h5.21v5.33h-5.21zM361.78 288.61h5.21v5.33h-5.21zM365.79 309.26h5.21v5.33h-5.21zM365.79 296.87h5.21v5.33h-5.21z"/>
<path fill="#52ba92" d="M337.72 313.39h5.21v5.33h-5.21zM337.72 309.26h5.21v5.33h-5.21zM345.74 288.61h5.21v5.33h-5.21zM349.75 284.48h5.21v5.33h-5.21zM353.76 321.65h5.21v5.33h-5.21zM353.76 284.48h5.21v5.33h-5.21zM361.78 317.52h5.21v5.33h-5.21zM361.78 313.39h5.21v5.33h-5.21zM365.79 305.13h5.21v5.33h-5.21zM365.79 301h5.21v5.33h-5.21z"/>
<path fill="#74bd81" d="M337.72 301h5.21v5.33h-5.21zM341.73 317.52h5.21v5.33h-5.21zM345.74 321.65h5.21v5.33h-5.21zM357.77 321.65h5.21v5.33h-5.21zM357.77 288.61h5.21v5.33h-5.21z"/>
<path fill="#95be71" d="M337.72 305.13h5.21v5.33h-5.21zM341.73 292.74h5.21v5.33h-5.21zM349.75 288.61h5.21v5.33h-5.21zM353.76 288.61h5.21v5.33h-5.21zM361.78 309.26h5.21v5.33h-5.21zM361.78 305.13h5.21v5.33h-5.21zM361.78 301h5.21v5.33h-5.21zM361.78 296.87h5.21v5.33h-5.21z"/>
<path fill="#b3bd65" d="M341.73 313.39h5.21v5.33h-5.21zM341.73 296.87h5.21v5.33h-5.21zM345.74 317.52h5.21v5.33h-5.21zM345.74 292.74h5.21v5.33h-5.21zM349.75 321.65h5.21v5.33h-5.21zM357.77 317.52h5.21v5.33h-5.21z"/>
<path fill="#d1bb59" d="M341.73 309.26h5.21v5.33h-5.21zM341.73 305.13h5.21v5.33h-5.21zM345.74 313.39h5.21v5.33h-5.21zM353.76 317.52h5.21v5.33h-5.21zM353.76 292.74h5.21v5.33h-5.21zM357.77 313.39h5.21v5.33h-5.21zM357.77 309.26h5.21v5.33h-5.21zM357.77 296.87h5.21v5.33h-5.21zM357.77 292.74h5.21v5.33h-5.21z"/>
<path fill="#e2c04b" d="M341.73 301h5.21v5.33h-5.21zM345.74 309.26h5.21v5.33h-5.21zM345.74 296.87h5.21v5.33h-5.21zM349.75 317.52h5.21v5.33h-5.21zM349.75 292.74h5.21v5.33h-5.21zM357.77 301h5.21v5.33h-5.21z"/>
<path fill="#f4c63b" d="M349.75 313.39h5.21v5.33h-5.21zM353.76 296.87h5.21v5.33h-5.21zM357.77 305.13h5.21v5.33h-5.21z"/>
<path fill="#fdd22b" d="M345.74 305.13h5.21v5.33h-5.21zM345.74 301h5.21v5.33h-5.21zM353.76 313.39h5.21v5.33h-5.21zM353.76 301h5.21v5.33h-5.21z"/>
<path fill="#fbe61d" d="M349.75 309.26h5.21v5.33h-5.21zM349.75 296.87h5.21v5.33h-5.21z"/>
<path fill="#f9f90f" d="M349.75 305.13h5.21v5.33h-5.21zM349.75 301h5.21v5.33h-5.21zM353.76 309.26h5.21v5.33h-5.21zM353.76 305.13h5.21v5.33h-5.21z"/>
<path fill="#263ea8" d="M987.48 610.75h5.39v5.33h-5.39zM1058.67 309.26h5.39v5.33h-5.39zM1058.67 296.87h5.39v5.33h-5.39zM1062.86 309.26h5.39v5.33h-5.39zM1062.86 296.87h5.39v5.33h-5.39zM1062.86 292.74h5.39v5.33h-5.39zM1067.05 350.56h5.39v5.33h-5.39zM1067.05 338.17h5.39v5.33h-5.39zM1067.05 334.04h5.39v5.33h-5.39zM1067.05 329.91h5.39v5.33h-5.39zM1067.05 305.13h5.39v5.33h-5.39zM1067.05 301h5.39v5.33h-5.39zM1071.24 338.17h5.39v5.33h-5.39zM1071.24 334.04h5.39v5.33h-5.39zM1071.24 325.78h5.39v5.33h-5.39zM1071.24 305.13h5.39v5.33h-5.39zM1071.24 301h5.39v5.33h-5.39zM1071.24 296.87h5.39v5.33h-5.39zM1071.24 292.74h5.39v5.33h-5.39zM1071.24 288.61h5.39v5.33h-5.39zM1075.42 367.08h5.39v5.33h-5.39zM1075.42 346.43h5.39v5.33h-5.39zM1075.42 338.17h5.39v5.33h-5.39zM1075.42 329.91h5.39v5.33h-5.39zM1075.42 325.78h5.39v5.33h-5.39zM1075.42 321.65h5.39v5.33h-5.39zM1075.42 317.52h5.39v5.33h-5.39zM1075.42 313.39h5.39v5.33h-5.39zM1075.42 309.26h5.39v5.33h-5.39zM1075.42 301h5.39v5.33h-5.39zM1075.42 296.87h5.39v5.33h-5.39zM1075.42 284.48h5.39v5.33h-5.39zM1075.42 267.96h5.39v5.33h-5.39zM1079.61 354.69h5.39v5.33h-5.39zM1079.61 350.56h5.39v5.33h-5.39zM1079.61 346.43h5.39v5.33h-5.39zM1079.61 342.3h5.39v5.33h-5.39zM1079.61 338.17h5.39v5.33h-5.39zM1079.61 334.04h5.39v5.33h-5.39zM1079.61 329.91h5.39v5.33h-5.39zM1079.61 325.78h5.39v5.33h-5.39zM1079.61 321.65h5.39v5.33h-5.39zM1079.61 317.52h5.39v5.33h-5.39zM1079.61 313.39h5.39v5.33h-5.39zM1079.61 309.26h5.39v5.33h-5.39zM1079.61 305.13h5.39v5.33h-5.39zM1079.61 301h5.39v5.33h-5.39zM1079.61 296.87h5.39v5.33h-5.39zM1079.61 292.74h5.39v5.33h-5.39zM1079.61 288.61h5.39v5.33h-5.39zM1079.61 284.48h5.39v5.33h-5.39zM1079.61 280.35h5.39v5.33h-5.39zM1083.8 371.21h5.39v5.33h-5.39zM1083.8 346.43h5.39v5.33h-5.39zM1083.8 342.3h5.39v5.33h-5.39zM1083.8 338.17h5.39v5.33h-5.39zM1083.8 334.04h5.39v5.33h-5.39zM1083.8 329.91h5.39v5.33h-5.39zM1083.8 325.78h5.39v5.33h-5.39zM1083.8 321.65h5.39v5.33h-5.39zM1083.8 317.52h5.39v5.33h-5.39zM1083.8 313.39h5.39v5.33h-5.39zM1083.8 309.26h5.39v5.33h-5.39zM1083.8 305.13h5.39v5.33h-5.39zM1083.8 296.87h5.39v5.33h-5.39zM1083.8 292.74h5.39v5.33h-5.39zM1083.8 288.61h5.39v5.33h-5.39zM1083.8 284.48h5.39v5.33h-5.39zM1083.8 280.35h5.39v5.33h-5.39zM1083.8 148.19h5.39v5.33h-5.39zM1087.99 362.95h5.39v5.33h-5.39zM1087.99 342.3h5.39v5.33h-5.39zM1087.99 338.17h5.39v5.33h-5.39zM1087.99 334.04h5.39v5.33h-5.39zM1087.99 329.91h5.39v5.33h-5.39zM1087.99 325.78h5.39v5.33h-5.39zM1087.99 321.65h5.39v5.33h-5.39zM1087.99 317.52h5.39v5.33h-5.39zM1087.99 313.39h5.39v5.33h-5.39zM1087.99 305.13h5.39v5.33h-5.39zM1087.99 301h5.39v5.33h-5.39zM1087.99 296.87h5.39v5.33h-5.39zM1087.99 292.74h5.39v5.33h-5.39zM1087.99 280.35h5.39v5.33h-5.39zM1087.99 272.09h5.39v5.33h-5.39zM1087.99 226.66h5.39v5.33h-5.39zM1092.18 362.95h5.39v5.33h-5.39zM1092.18 358.82h5.39v5.33h-5.39zM1092.18 354.69h5.39v5.33h-5.39zM1092.18 350.56h5.39v5.33h-5.39zM1092.18 342.3h5.39v5.33h-5.39zM1092.18 338.17h5.39v5.33h-5.39zM1092.18 334.04h5.39v5.33h-5.39zM1092.18 329.91h5.39v5.33h-5.39zM1092.18 325.78h5.39v5.33h-5.39zM1092.18 321.65h5.39v5.33h-5.39zM1092.18 317.52h5.39v5.33h-5.39zM1092.18 313.39h5.39v5.33h-5.39zM1092.18 309.26h5.39v5.33h-5.39zM1092.18 305.13h5.39v5.33h-5.39zM1092.18 301h5.39v5.33h-5.39zM1092.18 296.87h5.39v5.33h-5.39zM1092.18 292.74h5.39v5.33h-5.39zM1092.18 288.61h5.39v5.33h-5.39zM1092.18 284.48h5.39v5.33h-5.39zM1092.18 280.35h5.39v5.33h-5.39zM1096.36 375.34h5.39v5.33h-5.39zM1096.36 367.08h5.39v5.33h-5.39zM1096.36 358.82h5.39v5.33h-5.39zM1096.36 354.69h5.39v5.33h-5.39zM1096.36 350.56h5.39v5.33h-5.39zM1096.36 346.43h5.39v5.33h-5.39zM1096.36 342.3h5.39v5.33h-5.39zM1096.36 338.17h5.39v5.33h-5.39zM1096.36 334.04h5.39v5.33h-5.39zM1096.36 329.91h5.39v5.33h-5.39zM1096.36 325.78h5.39v5.33h-5.39zM1096.36 317.52h5.39v5.33h-5.39zM1096.36 313.39h5.39v5.33h-5.39zM1096.36 309.26h5.39v5.33h-5.39zM1096.36 305.13h5.39v5.33h-5.39zM1096.36 301h5.39v5.33h-5.39zM1096.36 296.87h5.39v5.33h-5.39zM1096.36 292.74h5.39v5.33h-5.39zM1096.36 288.61h5.39v5.33h-5.39zM1096.36 284.48h5.39v5.33h-5.39zM1096.36 280.35h5.39v5.33h-5.39zM1096.36 276.22h5.39v5.33h-5.39zM1096.36 272.09h5.39v5.33h-5.39zM1096.36 210.14h5.39v5.33h-5.39zM1096.36 111.02h5.39v5.33h-5.39zM1100.55 371.21h5.39v5.33h-5.39zM1100.55 367.08h5.39v5.33h-5.39zM1100.55 358.82h5.39v5.33h-5.39zM1100.55 354.69h5.39v5.33h-5.39zM1100.55 350.56h5.39v5.33h-5.39zM1100.55 346.43h5.39v5.33h-5.39zM1100.55 342.3h5.39v5.33h-5.39zM1100.55 338.17h5.39v5.33h-5.39zM1100.55 334.04h5.39v5.33h-5.39zM1100.55 296.87h5.39v5.33h-5.39zM1100.55 292.74h5.39v5.33h-5.39zM1100.55 288.61h5.39v5.33h-5.39zM1100.55 284.48h5.39v5.33h-5.39zM1100.55 280.35h5.39v5.33h-5.39zM1100.55 276.22h5.39v5.33h-5.39zM1100.55 272.09h5.39v5.33h-5.39zM1100.55 267.96h5.39v5.33h-5.39zM1100.55 263.83h5.39v5.33h-5.39zM1104.74 362.95h5.39v5.33h-5.39zM1104.74 358.82h5.39v5.33h-5.39zM1104.74 354.69h5.39v5.33h-5.39zM1104.74 350.56h5.39v5.33h-5.39zM1104.74 346.43h5.39v5.33h-5.39zM1104.74 296.87h5.39v5.33h-5.39zM1104.74 292.74h5.39v5.33h-5.39zM1104.74 288.61h5.39v5.33h-5.39zM1104.74 284.48h5.39v5.33h-5.39zM1104.74 276.22h5.39v5.33h-5.39zM1104.74 272.09h5.39v5.33h-5.39zM1104.74 230.79h5.39v5.33h-5.39zM1108.93 375.34h5.39v5.33h-5.39zM1108.93 371.21h5.39v5.33h-5.39zM1108.93 367.08h5.39v5.33h-5.39zM1108.93 362.95h5.39v5.33h-5.39zM1108.93 358.82h5.39v5.33h-5.39zM1108.93 354.69h5.39v5.33h-5.39zM1108.93 350.56h5.39v5.33h-5.39zM1108.93 346.43h5.39v5.33h-5.39zM1108.93 288.61h5.39v5.33h-5.39zM1108.93 284.48h5.39v5.33h-5.39zM1108.93 280.35h5.39v5.33h-5.39zM1108.93 276.22h5.39v5.33h-5.39zM1108.93 272.09h5.39v5.33h-5.39zM1108.93 267.96h5.39v5.33h-5.39zM1108.93 263.83h5.39v5.33h-5.39zM1108.93 259.7h5.39v5.33h-5.39zM1108.93 251.44h5.39v5.33h-5.39zM1108.93 193.62h5.39v5.33h-5.39zM1108.93 185.36h5.39v5.33h-5.39zM1108.93 144.06h5.39v5.33h-5.39zM1113.12 387.73h5.39v5.33h-5.39zM1113.12 367.08h5.39v5.33h-5.39zM1113.12 362.95h5.39v5.33h-5.39zM1113.12 358.82h5.39v5.33h-5.39zM1113.12 354.69h5.39v5.33h-5.39zM1113.12 350.56h5.39v5.33h-5.39zM1113.12 346.43h5.39v5.33h-5.39zM1113.12 284.48h5.39v5.33h-5.39zM1113.12 280.35h5.39v5.33h-5.39zM1113.12 276.22h5.39v5.33h-5.39zM1113.12 272.09h5.39v5.33h-5.39zM1113.12 267.96h5.39v5.33h-5.39zM1113.12 263.83h5.39v5.33h-5.39zM1113.12 259.7h5.39v5.33h-5.39zM1117.3 379.47h5.39v5.33h-5.39zM1117.3 375.34h5.39v5.33h-5.39zM1117.3 367.08h5.39v5.33h-5.39zM1117.3 362.95h5.39v5.33h-5.39zM1117.3 358.82h5.39v5.33h-5.39zM1117.3 354.69h5.39v5.33h-5.39zM1117.3 280.35h5.39v5.33h-5.39zM1117.3 276.22h5.39v5.33h-5.39zM1117.3 272.09h5.39v5.33h-5.39zM1117.3 267.96h5.39v5.33h-5.39zM1117.3 259.7h5.39v5.33h-5.39zM1117.3 247.31h5.39v5.33h-5.39zM1117.3 243.18h5.39v5.33h-5.39zM1117.3 222.53h5.39v5.33h-5.39zM1117.3 218.4h5.39v5.33h-5.39zM1117.3 210.14h5.39v5.33h-5.39zM1117.3 177.1h5.39v5.33h-5.39zM1117.3 152.32h5.39v5.33h-5.39zM1117.3 148.19h5.39v5.33h-5.39zM1117.3 139.93h5.39v5.33h-5.39zM1117.3 40.81h5.39v5.33h-5.39zM1121.49 594.23h5.39v5.33h-5.39zM1121.49 581.84h5.39v5.33h-5.39zM1121.49 387.73h5.39v5.33h-5.39zM1121.49 379.47h5.39v5.33h-5.39zM1121.49 371.21h5.39v5.33h-5.39zM1121.49 367.08h5.39v5.33h-5.39zM1121.49 362.95h5.39v5.33h-5.39zM1121.49 358.82h5.39v5.33h-5.39zM1121.49 354.69h5.39v5.33h-5.39zM1121.49 280.35h5.39v5.33h-5.39zM1121.49 276.22h5.39v5.33h-5.39zM1121.49 272.09h5.39v5.33h-5.39zM1121.49 267.96h5.39v5.33h-5.39zM1121.49 263.83h5.39v5.33h-5.39zM1121.49 259.7h5.39v5.33h-5.39zM1121.49 251.44h5.39v5.33h-5.39zM1121.49 197.75h5.39v5.33h-5.39zM1121.49 177.1h5.39v5.33h-5.39zM1121.49 127.54h5.39v5.33h-5.39zM1121.49 119.28h5.39v5.33h-5.39zM1121.49 115.15h5.39v5.33h-5.39zM1121.49 57.33h5.39v5.33h-5.39zM1121.49 20.16h5.39v5.33h-5.39zM1125.68 379.47h5.39v5.33h-5.39zM1125.68 375.34h5.39v5.33h-5.39zM1125.68 371.21h5.39v5.33h-5.39zM1125.68 367.08h5.39v5.33h-5.39zM1125.68 362.95h5.39v5.33h-5.39zM1125.68 276.22h5.39v5.33h-5.39zM1125.68 267.96h5.39v5.33h-5.39zM1125.68 263.83h5.39v5.33h-5.39zM1125.68 259.7h5.39v5.33h-5.39zM1125.68 255.57h5.39v5.33h-5.39zM1125.68 218.4h5.39v5.33h-5.39zM1125.68 214.27h5.39v5.33h-5.39zM1125.68 189.49h5.39v5.33h-5.39zM1125.68 156.45h5.39v5.33h-5.39zM1125.68 90.37h5.39v5.33h-5.39zM1125.68 28.42h5.39v5.33h-5.39zM1129.87 379.47h5.39v5.33h-5.39zM1129.87 375.34h5.39v5.33h-5.39zM1129.87 371.21h5.39v5.33h-5.39zM1129.87 367.08h5.39v5.33h-5.39zM1129.87 362.95h5.39v5.33h-5.39zM1129.87 276.22h5.39v5.33h-5.39zM1129.87 272.09h5.39v5.33h-5.39zM1129.87 267.96h5.39v5.33h-5.39zM1129.87 263.83h5.39v5.33h-5.39zM1129.87 259.7h5.39v5.33h-5.39zM1129.87 255.57h5.39v5.33h-5.39zM1129.87 251.44h5.39v5.33h-5.39zM1129.87 247.31h5.39v5.33h-5.39zM1129.87 239.05h5.39v5.33h-5.39zM1129.87 234.92h5.39v5.33h-5.39zM1129.87 181.23h5.39v5.33h-5.39zM1129.87 160.58h5.39v5.33h-5.39zM1129.87 156.45h5.39v5.33h-5.39zM1129.87 115.15h5.39v5.33h-5.39zM1129.87 44.94h5.39v5.33h-5.39zM1134.06 466.2h5.39v5.33h-5.39zM1134.06 453.81h5.39v5.33h-5.39zM1134.06 387.73h5.39v5.33h-5.39zM1134.06 383.6h5.39v5.33h-5.39zM1134.06 379.47h5.39v5.33h-5.39zM1134.06 375.34h5.39v5.33h-5.39zM1134.06 371.21h5.39v5.33h-5.39zM1134.06 367.08h5.39v5.33h-5.39zM1134.06 362.95h5.39v5.33h-5.39zM1134.06 272.09h5.39v5.33h-5.39zM1134.06 267.96h5.39v5.33h-5.39zM1134.06 263.83h5.39v5.33h-5.39zM1134.06 259.7h5.39v5.33h-5.39zM1134.06 251.44h5.39v5.33h-5.39zM1134.06 247.31h5.39v5.33h-5.39zM1134.06 222.53h5.39v5.33h-5.39zM1134.06 214.27h5.39v5.33h-5.39zM1134.06 210.14h5.39v5.33h-5.39zM1134.06 197.75h5.39v5.33h-5.39zM1134.06 193.62h5.39v5.33h-5.39zM1134.06 164.71h5.39v5.33h-5.39zM1134.06 160.58h5.39v5.33h-5.39zM1134.06 135.8h5.39v5.33h-5.39zM1134.06 131.67h5.39v5.33h-5.39zM1134.06 49.07h5.39v5.33h-5.39zM1134.06 40.81h5.39v5.33h-5.39zM1134.06 20.16h5.39v5.33h-5.39zM1134.06 11.9h5.39v5.33h-5.39zM1138.24 391.86h5.39v5.33h-5.39zM1138.24 379.47h5.39v5.33h-5.39zM1138.24 375.34h5.39v5.33h-5.39zM1138.24 371.21h5.39v5.33h-5.39zM1138.24 367.08h5.39v5.33h-5.39zM1138.24 362.95h5.39v5.33h-5.39zM1138.24 272.09h5.39v5.33h-5.39zM1138.24 267.96h5.39v5.33h-5.39zM1138.24 263.83h5.39v5.33h-5.39zM1138.24 259.7h5.39v5.33h-5.39zM1138.24 255.57h5.39v5.33h-5.39zM1138.24 251.44h5.39v5.33h-5.39zM1138.24 247.31h5.39v5.33h-5.39zM1138.24 226.66h5.39v5.33h-5.39zM1138.24 218.4h5.39v5.33h-5.39zM1138.24 214.27h5.39v5.33h-5.39zM1138.24 210.14h5.39v5.33h-5.39zM1138.24 197.75h5.39v5.33h-5.39zM1138.24 185.36h5.39v5.33h-5.39zM1138.24 181.23h5.39v5.33h-5.39zM1138.24 86.24h5.39v5.33h-5.39zM1138.24 82.11h5.39v5.33h-5.39zM1138.24 77.98h5.39v5.33h-5.39zM1138.24 57.33h5.39v5.33h-5.39zM1142.43 387.73h5.39v5.33h-5.39zM1142.43 383.6h5.39v5.33h-5.39zM1142.43 379.47h5.39v5.33h-5.39zM1142.43 375.34h5.39v5.33h-5.39zM1142.43 371.21h5.39v5.33h-5.39zM1142.43 367.08h5.39v5.33h-5.39zM1142.43 362.95h5.39v5.33h-5.39zM1142.43 272.09h5.39v5.33h-5.39zM1142.43 267.96h5.39v5.33h-5.39zM1142.43 263.83h5.39v5.33h-5.39zM1142.43 259.7h5.39v5.33h-5.39zM1142.43 255.57h5.39v5.33h-5.39zM1142.43 251.44h5.39v5.33h-5.39zM1142.43 247.31h5.39v5.33h-5.39zM1142.43 226.66h5.39v5.33h-5.39zM1142.43 185.36h5.39v5.33h-5.39zM1142.43 144.06h5.39v5.33h-5.39zM1142.43 131.67h5.39v5.33h-5.39zM1142.43 115.15h5.39v5.33h-5.39zM1142.43 77.98h5.39v5.33h-5.39zM1142.43 49.07h5.39v5.33h-5.39zM1142.43 44.94h5.39v5.33h-5.39zM1142.43 36.68h5.39v5.33h-5.39zM1142.43 28.42h5.39v5.33h-5.39zM1142.43 20.16h5.39v5.33h-5.39zM1142.43 11.9h5.39v5.33h-5.39zM1146.62 408.38h5.39v5.33h-5.39zM1146.62 387.73h5.39v5.33h-5.39zM1146.62 383.6h5.39v5.33h-5.39zM1146.62 379.47h5.39v5.33h-5.39zM1146.62 375.34h5.39v5.33h-5.39zM1146.62 371.21h5.39v5.33h-5.39zM1146.62 367.08h5.39v5.33h-5.39zM1146.62 362.95h5.39v5.33h-5.39zM1146.62 358.82h5.39v5.33h-5.39zM1146.62 272.09h5.39v5.33h-5.39zM1146.62 267.96h5.39v5.33h-5.39zM1146.62 259.7h5.39v5.33h-5.39zM1146.62 255.57h5.39v5.33h-5.39zM1146.62 234.92h5.39v5.33h-5.39zM1146.62 210.14h5.39v5.33h-5.39zM1146.62 201.88h5.39v5.33h-5.39zM1146.62 164.71h5.39v5.33h-5.39zM1146.62 152.32h5.39v5.33h-5.39zM1146.62 139.93h5.39v5.33h-5.39zM1146.62 123.41h5.39v5.33h-5.39zM1146.62 77.98h5.39v5.33h-5.39zM1146.62 69.72h5.39v5.33h-5.39zM1146.62 57.33h5.39v5.33h-5.39zM1146.62 53.2h5.39v5.33h-5.39zM1146.62 44.94h5.39v5.33h-5.39zM1146.62 40.81h5.39v5.33h-5.39zM1146.62 32.55h5.39v5.33h-5.39zM1150.81 379.47h5.39v5.33h-5.39zM1150.81 371.21h5.39v5.33h-5.39zM1150.81 367.08h5.39v5.33h-5.39zM1150.81 362.95h5.39v5.33h-5.39zM1150.81 358.82h5.39v5.33h-5.39zM1150.81 276.22h5.39v5.33h-5.39zM1150.81 272.09h5.39v5.33h-5.39zM1150.81 267.96h5.39v5.33h-5.39zM1150.81 263.83h5.39v5.33h-5.39zM1150.81 259.7h5.39v5.33h-5.39zM1150.81 255.57h5.39v5.33h-5.39zM1150.81 251.44h5.39v5.33h-5.39zM1150.81 247.31h5.39v5.33h-5.39zM1150.81 243.18h5.39v5.33h-5.39zM1150.81 234.92h5.39v5.33h-5.39zM1150.81 230.79h5.39v5.33h-5.39zM1150.81 206.01h5.39v5.33h-5.39zM1150.81 201.88h5.39v5.33h-5.39zM1150.81 193.62h5.39v5.33h-5.39zM1150.81 185.36h5.39v5.33h-5.39zM1150.81 181.23h5.39v5.33h-5.39zM1150.81 168.84h5.39v5.33h-5.39zM1150.81 156.45h5.39v5.33h-5.39zM1150.81 57.33h5.39v5.33h-5.39zM1150.81 40.81h5.39v5.33h-5.39zM1155 375.34h5.39v5.33h-5.39zM1155 371.21h5.39v5.33h-5.39zM1155 367.08h5.39v5.33h-5.39zM1155 362.95h5.39v5.33h-5.39zM1155 358.82h5.39v5.33h-5.39zM1155 280.35h5.39v5.33h-5.39zM1155 276.22h5.39v5.33h-5.39zM1155 272.09h5.39v5.33h-5.39zM1155 267.96h5.39v5.33h-5.39zM1155 259.7h5.39v5.33h-5.39zM1155 255.57h5.39v5.33h-5.39zM1155 251.44h5.39v5.33h-5.39zM1155 222.53h5.39v5.33h-5.39zM1155 214.27h5.39v5.33h-5.39zM1155 206.01h5.39v5.33h-5.39zM1155 168.84h5.39v5.33h-5.39zM1155 123.41h5.39v5.33h-5.39zM1155 86.24h5.39v5.33h-5.39zM1155 65.59h5.39v5.33h-5.39zM1155 57.33h5.39v5.33h-5.39zM1155 28.42h5.39v5.33h-5.39zM1159.18 375.34h5.39v5.33h-5.39zM1159.18 371.21h5.39v5.33h-5.39zM1159.18 367.08h5.39v5.33h-5.39zM1159.18 362.95h5.39v5.33h-5.39zM1159.18 358.82h5.39v5.33h-5.39zM1159.18 354.69h5.39v5.33h-5.39zM1159.18 288.61h5.39v5.33h-5.39zM1159.18 280.35h5.39v5.33h-5.39zM1159.18 276.22h5.39v5.33h-5.39zM1159.18 272.09h5.39v5.33h-5.39zM1159.18 263.83h5.39v5.33h-5.39zM1159.18 259.7h5.39v5.33h-5.39zM1159.18 255.57h5.39v5.33h-5.39zM1159.18 226.66h5.39v5.33h-5.39zM1159.18 214.27h5.39v5.33h-5.39zM1159.18 201.88h5.39v5.33h-5.39zM1159.18 181.23h5.39v5.33h-5.39zM1159.18 135.8h5.39v5.33h-5.39zM1159.18 77.98h5.39v5.33h-5.39zM1163.37 379.47h5.39v5.33h-5.39zM1163.37 371.21h5.39v5.33h-5.39zM1163.37 367.08h5.39v5.33h-5.39zM1163.37 362.95h5.39v5.33h-5.39zM1163.37 358.82h5.39v5.33h-5.39zM1163.37 354.69h5.39v5.33h-5.39zM1163.37 350.56h5.39v5.33h-5.39zM1163.37 288.61h5.39v5.33h-5.39zM1163.37 284.48h5.39v5.33h-5.39zM1163.37 280.35h5.39v5.33h-5.39zM1163.37 276.22h5.39v5.33h-5.39zM1163.37 272.09h5.39v5.33h-5.39zM1163.37 263.83h5.39v5.33h-5.39zM1163.37 226.66h5.39v5.33h-5.39zM1163.37 214.27h5.39v5.33h-5.39zM1163.37 177.1h5.39v5.33h-5.39zM1163.37 111.02h5.39v5.33h-5.39zM1167.56 379.47h5.39v5.33h-5.39zM1167.56 371.21h5.39v5.33h-5.39zM1167.56 362.95h5.39v5.33h-5.39zM1167.56 358.82h5.39v5.33h-5.39zM1167.56 354.69h5.39v5.33h-5.39zM1167.56 350.56h5.39v5.33h-5.39zM1167.56 346.43h5.39v5.33h-5.39zM1167.56 334.04h5.39v5.33h-5.39zM1167.56 288.61h5.39v5.33h-5.39zM1167.56 284.48h5.39v5.33h-5.39zM1167.56 280.35h5.39v5.33h-5.39zM1167.56 276.22h5.39v5.33h-5.39zM1167.56 272.09h5.39v5.33h-5.39zM1167.56 267.96h5.39v5.33h-5.39zM1167.56 263.83h5.39v5.33h-5.39zM1167.56 259.7h5.39v5.33h-5.39zM1167.56 255.57h5.39v5.33h-5.39zM1167.56 226.66h5.39v5.33h-5.39zM1167.56 218.4h5.39v5.33h-5.39zM1167.56 193.62h5.39v5.33h-5.39zM1167.56 185.36h5.39v5.33h-5.39zM1167.56 135.8h5.39v5.33h-5.39zM1167.56 94.5h5.39v5.33h-5.39zM1171.75 371.21h5.39v5.33h-5.39zM1171.75 362.95h5.39v5.33h-5.39zM1171.75 354.69h5.39v5.33h-5.39zM1171.75 350.56h5.39v5.33h-5.39zM1171.75 346.43h5.39v5.33h-5.39zM1171.75 342.3h5.39v5.33h-5.39zM1171.75 296.87h5.39v5.33h-5.39zM1171.75 292.74h5.39v5.33h-5.39zM1171.75 288.61h5.39v5.33h-5.39zM1171.75 284.48h5.39v5.33h-5.39zM1171.75 280.35h5.39v5.33h-5.39zM1171.75 276.22h5.39v5.33h-5.39zM1171.75 272.09h5.39v5.33h-5.39zM1171.75 263.83h5.39v5.33h-5.39zM1171.75 255.57h5.39v5.33h-5.39zM1171.75 247.31h5.39v5.33h-5.39zM1171.75 234.92h5.39v5.33h-5.39zM1171.75 222.53h5.39v5.33h-5.39zM1171.75 214.27h5.39v5.33h-5.39zM1171.75 193.62h5.39v5.33h-5.39zM1171.75 181.23h5.39v5.33h-5.39zM1175.94 379.47h5.39v5.33h-5.39zM1175.94 367.08h5.39v5.33h-5.39zM1175.94 358.82h5.39v5.33h-5.39zM1175.94 350.56h5.39v5.33h-5.39zM1175.94 346.43h5.39v5.33h-5.39zM1175.94 342.3h5.39v5.33h-5.39zM1175.94 338.17h5.39v5.33h-5.39zM1175.94 334.04h5.39v5.33h-5.39zM1175.94 329.91h5.39v5.33h-5.39zM1175.94 325.78h5.39v5.33h-5.39zM1175.94 321.65h5.39v5.33h-5.39zM1175.94 305.13h5.39v5.33h-5.39zM1175.94 301h5.39v5.33h-5.39zM1175.94 296.87h5.39v5.33h-5.39zM1175.94 292.74h5.39v5.33h-5.39zM1175.94 288.61h5.39v5.33h-5.39zM1175.94 284.48h5.39v5.33h-5.39zM1175.94 280.35h5.39v5.33h-5.39zM1175.94 276.22h5.39v5.33h-5.39zM1175.94 267.96h5.39v5.33h-5.39zM1175.94 230.79h5.39v5.33h-5.39zM1175.94 214.27h5.39v5.33h-5.39zM1175.94 197.75h5.39v5.33h-5.39zM1175.94 152.32h5.39v5.33h-5.39zM1180.12 346.43h5.39v5.33h-5.39zM1180.12 342.3h5.39v5.33h-5.39zM1180.12 338.17h5.39v5.33h-5.39zM1180.12 334.04h5.39v5.33h-5.39zM1180.12 329.91h5.39v5.33h-5.39zM1180.12 325.78h5.39v5.33h-5.39zM1180.12 321.65h5.39v5.33h-5.39zM1180.12 313.39h5.39v5.33h-5.39zM1180.12 309.26h5.39v5.33h-5.39zM1180.12 305.13h5.39v5.33h-5.39zM1180.12 301h5.39v5.33h-5.39zM1180.12 292.74h5.39v5.33h-5.39zM1180.12 288.61h5.39v5.33h-5.39zM1180.12 284.48h5.39v5.33h-5.39zM1180.12 280.35h5.39v5.33h-5.39zM1180.12 276.22h5.39v5.33h-5.39zM1180.12 272.09h5.39v5.33h-5.39zM1180.12 263.83h5.39v5.33h-5.39zM1180.12 226.66h5.39v5.33h-5.39zM1180.12 218.4h5.39v5.33h-5.39zM1180.12 214.27h5.39v5.33h-5.39zM1180.12 210.14h5.39v5.33h-5.39zM1180.12 206.01h5.39v5.33h-5.39zM1180.12 197.75h5.39v5.33h-5.39zM1180.12 189.49h5.39v5.33h-5.39zM1180.12 172.97h5.39v5.33h-5.39zM1180.12 127.54h5.39v5.33h-5.39zM1180.12 11.9h5.39v5.33h-5.39zM1184.31 342.3h5.39v5.33h-5.39zM1184.31 338.17h5.39v5.33h-5.39zM1184.31 334.04h5.39v5.33h-5.39zM1184.31 329.91h5.39v5.33h-5.39zM1184.31 325.78h5.39v5.33h-5.39zM1184.31 321.65h5.39v5.33h-5.39zM1184.31 317.52h5.39v5.33h-5.39zM1184.31 313.39h5.39v5.33h-5.39zM1184.31 309.26h5.39v5.33h-5.39zM1184.31 305.13h5.39v5.33h-5.39zM1184.31 301h5.39v5.33h-5.39zM1184.31 296.87h5.39v5.33h-5.39zM1184.31 292.74h5.39v5.33h-5.39zM1184.31 288.61h5.39v5.33h-5.39zM1184.31 259.7h5.39v5.33h-5.39zM1184.31 247.31h5.39v5.33h-5.39zM1184.31 243.18h5.39v5.33h-5.39zM1184.31 222.53h5.39v5.33h-5.39zM1184.31 218.4h5.39v5.33h-5.39zM1184.31 214.27h5.39v5.33h-5.39zM1184.31 206.01h5.39v5.33h-5.39zM1184.31 201.88h5.39v5.33h-5.39zM1184.31 177.1h5.39v5.33h-5.39zM1184.31 123.41h5.39v5.33h-5.39zM1188.5 379.47h5.39v5.33h-5.39zM1188.5 342.3h5.39v5.33h-5.39zM1188.5 334.04h5.39v5.33h-5.39zM1188.5 329.91h5.39v5.33h-5.39zM1188.5 325.78h5.39v5.33h-5.39zM1188.5 321.65h5.39v5.33h-5.39zM1188.5 317.52h5.39v5.33h-5.39zM1188.5 313.39h5.39v5.33h-5.39zM1188.5 309.26h5.39v5.33h-5.39zM1188.5 305.13h5.39v5.33h-5.39zM1188.5 301h5.39v5.33h-5.39zM1188.5 296.87h5.39v5.33h-5.39zM1188.5 288.61h5.39v5.33h-5.39zM1188.5 276.22h5.39v5.33h-5.39zM1188.5 272.09h5.39v5.33h-5.39zM1188.5 267.96h5.39v5.33h-5.39zM1188.5 230.79h5.39v5.33h-5.39zM1188.5 214.27h5.39v5.33h-5.39zM1188.5 206.01h5.39v5.33h-5.39zM1188.5 177.1h5.39v5.33h-5.39zM1188.5 160.58h5.39v5.33h-5.39zM1188.5 131.67h5.39v5.33h-5.39zM1188.5 115.15h5.39v5.33h-5.39zM1188.5 86.24h5.39v5.33h-5.39zM1192.69 561.19h5.39v5.33h-5.39zM1192.69 358.82h5.39v5.33h-5.39zM1192.69 354.69h5.39v5.33h-5.39zM1192.69 342.3h5.39v5.33h-5.39zM1192.69 338.17h5.39v5.33h-5.39zM1192.69 334.04h5.39v5.33h-5.39zM1192.69 329.91h5.39v5.33h-5.39zM1192.69 325.78h5.39v5.33h-5.39zM1192.69 317.52h5.39v5.33h-5.39zM1192.69 313.39h5.39v5.33h-5.39zM1192.69 305.13h5.39v5.33h-5.39zM1192.69 296.87h5.39v5.33h-5.39zM1192.69 288.61h5.39v5.33h-5.39zM1192.69 280.35h5.39v5.33h-5.39zM1192.69 243.18h5.39v5.33h-5.39zM1192.69 239.05h5.39v5.33h-5.39zM1192.69 226.66h5.39v5.33h-5.39zM1192.69 218.4h5.39v5.33h-5.39zM1192.69 189.49h5.39v5.33h-5.39zM1192.69 144.06h5.39v5.33h-5.39zM1192.69 131.67h5.39v5.33h-5.39zM1192.69 119.28h5.39v5.33h-5.39zM1192.69 82.11h5.39v5.33h-5.39zM1196.88 342.3h5.39v5.33h-5.39zM1196.88 338.17h5.39v5.33h-5.39zM1196.88 334.04h5.39v5.33h-5.39zM1196.88 329.91h5.39v5.33h-5.39zM1196.88 325.78h5.39v5.33h-5.39zM1196.88 321.65h5.39v5.33h-5.39zM1196.88 317.52h5.39v5.33h-5.39zM1196.88 313.39h5.39v5.33h-5.39zM1196.88 309.26h5.39v5.33h-5.39zM1196.88 305.13h5.39v5.33h-5.39zM1196.88 301h5.39v5.33h-5.39zM1196.88 296.87h5.39v5.33h-5.39zM1196.88 292.74h5.39v5.33h-5.39zM1196.88 288.61h5.39v5.33h-5.39zM1196.88 267.96h5.39v5.33h-5.39zM1196.88 210.14h5.39v5.33h-5.39zM1201.06 350.56h5.39v5.33h-5.39zM1201.06 342.3h5.39v5.33h-5.39zM1201.06 189.49h5.39v5.33h-5.39zM1201.06 94.5h5.39v5.33h-5.39zM1205.25 354.69h5.39v5.33h-5.39zM1205.25 346.43h5.39v5.33h-5.39zM1205.25 197.75h5.39v5.33h-5.39zM1205.25 193.62h5.39v5.33h-5.39zM1209.44 346.43h5.39v5.33h-5.39zM1209.44 115.15h5.39v5.33h-5.39zM1213.63 214.27h5.39v5.33h-5.39zM1213.63 189.49h5.39v5.33h-5.39zM1213.63 172.97h5.39v5.33h-5.39zM1213.63 90.37h5.39v5.33h-5.39zM1217.82 350.56h5.39v5.33h-5.39zM1217.82 131.67h5.39v5.33h-5.39zM1217.82 98.63h5.39v5.33h-5.39zM1217.82 90.37h5.39v5.33h-5.39zM1222 201.88h5.39v5.33h-5.39zM1226.19 346.43h5.39v5.33h-5.39zM1226.19 210.14h5.39v5.33h-5.39zM1230.38 350.56h5.39v5.33h-5.39zM1230.38 36.68h5.39v5.33h-5.39zM1234.57 358.82h5.39v5.33h-5.39zM1234.57 168.84h5.39v5.33h-5.39zM1234.57 53.2h5.39v5.33h-5.39zM1234.57 20.16h5.39v5.33h-5.39zM1238.76 206.01h5.39v5.33h-5.39zM1238.76 77.98h5.39v5.33h-5.39zM1238.76 61.46h5.39v5.33h-5.39zM1242.94 11.9h5.39v5.33h-5.39zM1247.13 53.2h5.39v5.33h-5.39zM1247.13 20.16h5.39v5.33h-5.39zM1247.13 11.9h5.39v5.33h-5.39zM1251.32 354.69h5.39v5.33h-5.39zM1251.32 201.88h5.39v5.33h-5.39zM1251.32 172.97h5.39v5.33h-5.39zM1255.51 156.45h5.39v5.33h-5.39zM1259.7 354.69h5.39v5.33h-5.39zM1259.7 350.56h5.39v5.33h-5.39zM1259.7 346.43h5.39v5.33h-5.39zM1259.7 164.71h5.39v5.33h-5.39zM1259.7 160.58h5.39v5.33h-5.39zM1259.7 57.33h5.39v5.33h-5.39zM1263.88 358.82h5.39v5.33h-5.39zM1263.88 123.41h5.39v5.33h-5.39zM1280.64 358.82h5.39v5.33h-5.39zM1289.01 358.82h5.39v5.33h-5.39zM1293.2 86.24h5.39v5.33h-5.39zM1297.39 371.21h5.39v5.33h-5.39zM1305.76 24.29h5.39v5.33h-5.39zM1309.95 362.95h5.39v5.33h-5.39zM1318.33 367.08h5.39v5.33h-5.39zM1318.33 354.69h5.39v5.33h-5.39zM1326.7 346.43h5.39v5.33h-5.39zM1330.89 362.95h5.39v5.33h-5.39zM1330.89 53.2h5.39v5.33h-5.39zM1335.08 362.95h5.39v5.33h-5.39zM1339.27 391.86h5.39v5.33h-5.39zM1339.27 375.34h5.39v5.33h-5.39zM1364.4 383.6h5.39v5.33h-5.39zM1393.71 445.55h5.39v5.33h-5.39zM1397.9 470.33h5.39v5.33h-5.39zM1402.09 490.98h5.39v5.33h-5.39zM1402.09 457.94h5.39v5.33h-5.39zM1402.09 453.81h5.39v5.33h-5.39zM1402.09 449.68h5.39v5.33h-5.39zM1406.28 528.15h5.39v5.33h-5.39zM1406.28 495.11h5.39v5.33h-5.39zM1406.28 470.33h5.39v5.33h-5.39zM1406.28 358.82h5.39v5.33h-5.39zM1410.46 519.89h5.39v5.33h-5.39zM1410.46 507.5h5.39v5.33h-5.39zM1410.46 495.11h5.39v5.33h-5.39zM1410.46 470.33h5.39v5.33h-5.39zM1410.46 466.2h5.39v5.33h-5.39zM1410.46 449.68h5.39v5.33h-5.39zM1414.65 515.76h5.39v5.33h-5.39zM1414.65 503.37h5.39v5.33h-5.39zM1414.65 457.94h5.39v5.33h-5.39zM1414.65 453.81h5.39v5.33h-5.39zM1414.65 449.68h5.39v5.33h-5.39zM1414.65 433.16h5.39v5.33h-5.39zM1414.65 412.51h5.39v5.33h-5.39zM1418.84 499.24h5.39v5.33h-5.39zM1418.84 486.85h5.39v5.33h-5.39zM1418.84 482.72h5.39v5.33h-5.39zM1418.84 478.59h5.39v5.33h-5.39zM1418.84 474.46h5.39v5.33h-5.39zM1418.84 470.33h5.39v5.33h-5.39zM1418.84 466.2h5.39v5.33h-5.39zM1418.84 457.94h5.39v5.33h-5.39zM1418.84 449.68h5.39v5.33h-5.39zM1418.84 445.55h5.39v5.33h-5.39zM1418.84 429.03h5.39v5.33h-5.39zM1418.84 420.77h5.39v5.33h-5.39zM1423.03 503.37h5.39v5.33h-5.39zM1423.03 495.11h5.39v5.33h-5.39zM1423.03 486.85h5.39v5.33h-5.39zM1423.03 482.72h5.39v5.33h-5.39zM1423.03 474.46h5.39v5.33h-5.39zM1423.03 470.33h5.39v5.33h-5.39zM1423.03 453.81h5.39v5.33h-5.39zM1423.03 449.68h5.39v5.33h-5.39zM1423.03 416.64h5.39v5.33h-5.39zM1427.22 511.63h5.39v5.33h-5.39zM1427.22 490.98h5.39v5.33h-5.39zM1427.22 482.72h5.39v5.33h-5.39zM1427.22 478.59h5.39v5.33h-5.39zM1427.22 474.46h5.39v5.33h-5.39zM1427.22 470.33h5.39v5.33h-5.39zM1427.22 462.07h5.39v5.33h-5.39zM1427.22 457.94h5.39v5.33h-5.39zM1427.22 453.81h5.39v5.33h-5.39zM1427.22 449.68h5.39v5.33h-5.39zM1427.22 441.42h5.39v5.33h-5.39zM1427.22 433.16h5.39v5.33h-5.39zM1431.4 503.37h5.39v5.33h-5.39zM1431.4 499.24h5.39v5.33h-5.39zM1431.4 490.98h5.39v5.33h-5.39zM1431.4 482.72h5.39v5.33h-5.39zM1431.4 474.46h5.39v5.33h-5.39zM1431.4 457.94h5.39v5.33h-5.39zM1431.4 453.81h5.39v5.33h-5.39zM1431.4 445.55h5.39v5.33h-5.39zM1435.59 519.89h5.39v5.33h-5.39zM1435.59 511.63h5.39v5.33h-5.39zM1435.59 478.59h5.39v5.33h-5.39zM1435.59 462.07h5.39v5.33h-5.39zM1435.59 453.81h5.39v5.33h-5.39zM1435.59 449.68h5.39v5.33h-5.39zM1435.59 441.42h5.39v5.33h-5.39zM1439.78 490.98h5.39v5.33h-5.39zM1439.78 486.85h5.39v5.33h-5.39zM1439.78 457.94h5.39v5.33h-5.39zM1439.78 453.81h5.39v5.33h-5.39zM1439.78 408.38h5.39v5.33h-5.39zM1439.78 383.6h5.39v5.33h-5.39zM1439.78 367.08h5.39v5.33h-5.39zM1443.97 503.37h5.39v5.33h-5.39zM1443.97 495.11h5.39v5.33h-5.39zM1443.97 486.85h5.39v5.33h-5.39zM1443.97 482.72h5.39v5.33h-5.39zM1443.97 478.59h5.39v5.33h-5.39zM1443.97 470.33h5.39v5.33h-5.39zM1443.97 466.2h5.39v5.33h-5.39zM1443.97 462.07h5.39v5.33h-5.39zM1443.97 453.81h5.39v5.33h-5.39zM1448.16 490.98h5.39v5.33h-5.39zM1448.16 482.72h5.39v5.33h-5.39zM1448.16 462.07h5.39v5.33h-5.39zM1448.16 449.68h5.39v5.33h-5.39zM1448.16 445.55h5.39v5.33h-5.39zM1448.16 433.16h5.39v5.33h-5.39zM1448.16 420.77h5.39v5.33h-5.39zM1452.34 490.98h5.39v5.33h-5.39zM1452.34 453.81h5.39v5.33h-5.39zM1452.34 445.55h5.39v5.33h-5.39zM1452.34 329.91h5.39v5.33h-5.39zM1456.53 478.59h5.39v5.33h-5.39zM1456.53 449.68h5.39v5.33h-5.39zM1464.91 478.59h5.39v5.33h-5.39zM1464.91 474.46h5.39v5.33h-5.39zM1464.91 462.07h5.39v5.33h-5.39zM1490.04 408.38h5.39v5.33h-5.39zM1498.41 367.08h5.39v5.33h-5.39zM1510.98 367.08h5.39v5.33h-5.39zM1523.54 383.6h5.39v5.33h-5.39zM1523.54 362.95h5.39v5.33h-5.39zM1531.92 362.95h5.39v5.33h-5.39zM1552.86 371.21h5.39v5.33h-5.39z"/>
<path fill="#1652cd" d="M1096.36 321.65h5.39v5.33h-5.39zM1100.55 329.91h5.39v5.33h-5.39zM1100.55 325.78h5.39v5.33h-5.39zM1100.55 321.65h5.39v5.33h-5.39zM1100.55 317.52h5.39v5.33h-5.39zM1100.55 313.39h5.39v5.33h-5.39zM1100.55 309.26h5.39v5.33h-5.39zM1100.55 305.13h5.39v5.33h-5.39zM1100.55 301h5.39v5.33h-5.39zM1104.74 342.3h5.39v5.33h-5.39zM1104.74 338.17h5.39v5.33h-5.39zM1104.74 334.04h5.39v5.33h-5.39zM1104.74 329.91h5.39v5.33h-5.39zM1104.74 325.78h5.39v5.33h-5.39zM1104.74 321.65h5.39v5.33h-5.39zM1104.74 313.39h5.39v5.33h-5.39zM1104.74 309.26h5.39v5.33h-5.39zM1104.74 305.13h5.39v5.33h-5.39zM1104.74 301h5.39v5.33h-5.39zM1108.93 342.3h5.39v5.33h-5.39zM1108.93 338.17h5.39v5.33h-5.39zM1108.93 329.91h5.39v5.33h-5.39zM1108.93 296.87h5.39v5.33h-5.39zM1108.93 292.74h5.39v5.33h-5.39zM1113.12 338.17h5.39v5.33h-5.39zM1113.12 301h5.39v5.33h-5.39zM1113.12 296.87h5.39v5.33h-5.39zM1113.12 292.74h5.39v5.33h-5.39zM1113.12 288.61h5.39v5.33h-5.39zM1117.3 350.56h5.39v5.33h-5.39zM1117.3 346.43h5.39v5.33h-5.39zM1117.3 292.74h5.39v5.33h-5.39zM1117.3 288.61h5.39v5.33h-5.39zM1117.3 284.48h5.39v5.33h-5.39zM1121.49 350.56h5.39v5.33h-5.39zM1121.49 284.48h5.39v5.33h-5.39zM1125.68 358.82h5.39v5.33h-5.39zM1125.68 354.69h5.39v5.33h-5.39zM1125.68 350.56h5.39v5.33h-5.39zM1125.68 284.48h5.39v5.33h-5.39zM1125.68 280.35h5.39v5.33h-5.39zM1125.68 272.09h5.39v5.33h-5.39zM1129.87 358.82h5.39v5.33h-5.39zM1129.87 354.69h5.39v5.33h-5.39zM1129.87 280.35h5.39v5.33h-5.39zM1134.06 358.82h5.39v5.33h-5.39zM1134.06 354.69h5.39v5.33h-5.39zM1134.06 280.35h5.39v5.33h-5.39zM1134.06 276.22h5.39v5.33h-5.39zM1138.24 358.82h5.39v5.33h-5.39zM1138.24 280.35h5.39v5.33h-5.39zM1138.24 276.22h5.39v5.33h-5.39zM1142.43 358.82h5.39v5.33h-5.39zM1142.43 276.22h5.39v5.33h-5.39zM1146.62 354.69h5.39v5.33h-5.39zM1146.62 280.35h5.39v5.33h-5.39zM1146.62 276.22h5.39v5.33h-5.39zM1150.81 354.69h5.39v5.33h-5.39zM1150.81 350.56h5.39v5.33h-5.39zM1150.81 346.43h5.39v5.33h-5.39zM1150.81 280.35h5.39v5.33h-5.39zM1155 354.69h5.39v5.33h-5.39zM1155 350.56h5.39v5.33h-5.39zM1155 346.43h5.39v5.33h-5.39zM1155 288.61h5.39v5.33h-5.39zM1155 284.48h5.39v5.33h-5.39zM1159.18 350.56h5.39v5.33h-5.39zM1159.18 346.43h5.39v5.33h-5.39zM1159.18 342.3h5.39v5.33h-5.39zM1159.18 292.74h5.39v5.33h-5.39zM1159.18 284.48h5.39v5.33h-5.39zM1163.37 346.43h5.39v5.33h-5.39zM1163.37 342.3h5.39v5.33h-5.39zM1163.37 338.17h5.39v5.33h-5.39zM1163.37 301h5.39v5.33h-5.39zM1163.37 296.87h5.39v5.33h-5.39zM1163.37 292.74h5.39v5.33h-5.39zM1167.56 342.3h5.39v5.33h-5.39zM1167.56 338.17h5.39v5.33h-5.39zM1167.56 329.91h5.39v5.33h-5.39zM1167.56 309.26h5.39v5.33h-5.39zM1167.56 301h5.39v5.33h-5.39zM1167.56 296.87h5.39v5.33h-5.39zM1167.56 292.74h5.39v5.33h-5.39zM1171.75 338.17h5.39v5.33h-5.39zM1171.75 334.04h5.39v5.33h-5.39zM1171.75 329.91h5.39v5.33h-5.39zM1171.75 325.78h5.39v5.33h-5.39zM1171.75 321.65h5.39v5.33h-5.39zM1171.75 309.26h5.39v5.33h-5.39zM1171.75 305.13h5.39v5.33h-5.39zM1171.75 301h5.39v5.33h-5.39zM1175.94 317.52h5.39v5.33h-5.39zM1175.94 313.39h5.39v5.33h-5.39zM1175.94 309.26h5.39v5.33h-5.39zM1180.12 317.52h5.39v5.33h-5.39z"/>
<path fill="#1064dc" d="M1104.74 317.52h5.39v5.33h-5.39zM1108.93 334.04h5.39v5.33h-5.39zM1108.93 325.78h5.39v5.33h-5.39zM1108.93 321.65h5.39v5.33h-5.39zM1108.93 309.26h5.39v5.33h-5.39zM1108.93 305.13h5.39v5.33h-5.39zM1108.93 301h5.39v5.33h-5.39zM1113.12 342.3h5.39v5.33h-5.39zM1113.12 334.04h5.39v5.33h-5.39zM1113.12 329.91h5.39v5.33h-5.39zM1113.12 305.13h5.39v5.33h-5.39zM1117.3 342.3h5.39v5.33h-5.39zM1117.3 296.87h5.39v5.33h-5.39zM1121.49 346.43h5.39v5.33h-5.39zM1121.49 342.3h5.39v5.33h-5.39zM1121.49 292.74h5.39v5.33h-5.39zM1121.49 288.61h5.39v5.33h-5.39zM1125.68 346.43h5.39v5.33h-5.39zM1129.87 350.56h5.39v5.33h-5.39zM1129.87 284.48h5.39v5.33h-5.39zM1138.24 354.69h5.39v5.33h-5.39zM1142.43 354.69h5.39v5.33h-5.39zM1142.43 350.56h5.39v5.33h-5.39zM1142.43 280.35h5.39v5.33h-5.39zM1146.62 284.48h5.39v5.33h-5.39zM1150.81 288.61h5.39v5.33h-5.39zM1150.81 284.48h5.39v5.33h-5.39zM1155 342.3h5.39v5.33h-5.39zM1155 292.74h5.39v5.33h-5.39zM1159.18 338.17h5.39v5.33h-5.39zM1159.18 301h5.39v5.33h-5.39zM1159.18 296.87h5.39v5.33h-5.39zM1163.37 334.04h5.39v5.33h-5.39zM1163.37 329.91h5.39v5.33h-5.39zM1163.37 313.39h5.39v5.33h-5.39zM1163.37 309.26h5.39v5.33h-5.39zM1163.37 305.13h5.39v5.33h-5.39zM1167.56 325.78h5.39v5.33h-5.39zM1167.56 321.65h5.39v5.33h-5.39zM1167.56 317.52h5.39v5.33h-5.39zM1167.56 313.39h5.39v5.33h-5.39zM1167.56 305.13h5.39v5.33h-5.39zM1171.75 317.52h5.39v5.33h-5.39zM1171.75 313.39h5.39v5.33h-5.39z"/>
<path fill="#1272d9" d="M1108.93 317.52h5.39v5.33h-5.39zM1108.93 313.39h5.39v5.33h-5.39zM1113.12 325.78h5.39v5.33h-5.39zM1113.12 321.65h5.39v5.33h-5.39zM1113.12 309.26h5.39v5.33h-5.39zM1117.3 338.17h5.39v5.33h-5.39zM1117.3 329.91h5.39v5.33h-5.39zM1117.3 305.13h5.39v5.33h-5.39zM1121.49 296.87h5.39v5.33h-5.39zM1125.68 288.61h5.39v5.33h-5.39zM1129.87 288.61h5.39v5.33h-5.39zM1134.06 350.56h5.39v5.33h-5.39zM1134.06 284.48h5.39v5.33h-5.39zM1138.24 350.56h5.39v5.33h-5.39zM1138.24 284.48h5.39v5.33h-5.39zM1142.43 284.48h5.39v5.33h-5.39zM1146.62 350.56h5.39v5.33h-5.39zM1146.62 288.61h5.39v5.33h-5.39zM1150.81 342.3h5.39v5.33h-5.39zM1150.81 292.74h5.39v5.33h-5.39zM1155 338.17h5.39v5.33h-5.39zM1155 305.13h5.39v5.33h-5.39zM1155 296.87h5.39v5.33h-5.39zM1159.18 334.04h5.39v5.33h-5.39zM1159.18 329.91h5.39v5.33h-5.39zM1159.18 309.26h5.39v5.33h-5.39zM1163.37 325.78h5.39v5.33h-5.39zM1163.37 321.65h5.39v5.33h-5.39z"/>
<path fill="#1481d6" d="M1113.12 317.52h5.39v5.33h-5.39zM1113.12 313.39h5.39v5.33h-5.39zM1117.3 334.04h5.39v5.33h-5.39zM1117.3 317.52h5.39v5.33h-5.39zM1117.3 309.26h5.39v5.33h-5.39zM1117.3 301h5.39v5.33h-5.39zM1121.49 338.17h5.39v5.33h-5.39zM1125.68 292.74h5.39v5.33h-5.39zM1134.06 288.61h5.39v5.33h-5.39zM1138.24 288.61h5.39v5.33h-5.39zM1142.43 346.43h5.39v5.33h-5.39zM1142.43 288.61h5.39v5.33h-5.39zM1146.62 346.43h5.39v5.33h-5.39zM1146.62 292.74h5.39v5.33h-5.39zM1150.81 338.17h5.39v5.33h-5.39zM1150.81 296.87h5.39v5.33h-5.39zM1155 301h5.39v5.33h-5.39zM1159.18 325.78h5.39v5.33h-5.39zM1159.18 321.65h5.39v5.33h-5.39zM1159.18 317.52h5.39v5.33h-5.39zM1159.18 313.39h5.39v5.33h-5.39zM1159.18 305.13h5.39v5.33h-5.39zM1163.37 317.52h5.39v5.33h-5.39z"/>
<path fill="#0e8fd1" d="M1117.3 325.78h5.39v5.33h-5.39zM1117.3 321.65h5.39v5.33h-5.39zM1117.3 313.39h5.39v5.33h-5.39zM1121.49 334.04h5.39v5.33h-5.39zM1121.49 329.91h5.39v5.33h-5.39zM1121.49 305.13h5.39v5.33h-5.39zM1121.49 301h5.39v5.33h-5.39zM1125.68 342.3h5.39v5.33h-5.39zM1125.68 296.87h5.39v5.33h-5.39zM1129.87 346.43h5.39v5.33h-5.39zM1129.87 292.74h5.39v5.33h-5.39zM1134.06 346.43h5.39v5.33h-5.39zM1138.24 346.43h5.39v5.33h-5.39zM1146.62 342.3h5.39v5.33h-5.39zM1155 334.04h5.39v5.33h-5.39zM1155 329.91h5.39v5.33h-5.39zM1155 325.78h5.39v5.33h-5.39zM1155 309.26h5.39v5.33h-5.39z"/>
<path fill="#099dcc" d="M1121.49 317.52h5.39v5.33h-5.39zM1125.68 338.17h5.39v5.33h-5.39zM1125.68 301h5.39v5.33h-5.39zM1129.87 342.3h5.39v5.33h-5.39zM1129.87 296.87h5.39v5.33h-5.39zM1142.43 342.3h5.39v5.33h-5.39zM1142.43 292.74h5.39v5.33h-5.39zM1150.81 334.04h5.39v5.33h-5.39zM1150.81 301h5.39v5.33h-5.39zM1155 321.65h5.39v5.33h-5.39zM1155 317.52h5.39v5.33h-5.39z"/>
<path fill="#0da7c3" d="M1121.49 325.78h5.39v5.33h-5.39zM1121.49 321.65h5.39v5.33h-5.39zM1121.49 313.39h5.39v5.33h-5.39zM1121.49 309.26h5.39v5.33h-5.39zM1125.68 334.04h5.39v5.33h-5.39zM1125.68 329.91h5.39v5.33h-5.39zM1134.06 342.3h5.39v5.33h-5.39zM1134.06 292.74h5.39v5.33h-5.39zM1138.24 292.74h5.39v5.33h-5.39zM1142.43 338.17h5.39v5.33h-5.39zM1146.62 338.17h5.39v5.33h-5.39zM1146.62 296.87h5.39v5.33h-5.39zM1150.81 329.91h5.39v5.33h-5.39zM1150.81 305.13h5.39v5.33h-5.39zM1155 313.39h5.39v5.33h-5.39z"/>
<path fill="#1eafb3" d="M1125.68 305.13h5.39v5.33h-5.39zM1129.87 338.17h5.39v5.33h-5.39zM1129.87 301h5.39v5.33h-5.39zM1138.24 342.3h5.39v5.33h-5.39zM1142.43 296.87h5.39v5.33h-5.39zM1146.62 334.04h5.39v5.33h-5.39zM1146.62 301h5.39v5.33h-5.39zM1150.81 325.78h5.39v5.33h-5.39zM1150.81 317.52h5.39v5.33h-5.39zM1150.81 309.26h5.39v5.33h-5.39z"/>
<path fill="#2eb7a4" d="M1125.68 325.78h5.39v5.33h-5.39zM1125.68 321.65h5.39v5.33h-5.39zM1129.87 334.04h5.39v5.33h-5.39zM1134.06 338.17h5.39v5.33h-5.39zM1134.06 296.87h5.39v5.33h-5.39zM1138.24 338.17h5.39v5.33h-5.39zM1138.24 296.87h5.39v5.33h-5.39zM1146.62 309.26h5.39v5.33h-5.39zM1150.81 321.65h5.39v5.33h-5.39zM1150.81 313.39h5.39v5.33h-5.39z"/>
<path fill="#52ba92" d="M1125.68 317.52h5.39v5.33h-5.39zM1125.68 313.39h5.39v5.33h-5.39zM1125.68 309.26h5.39v5.33h-5.39zM1134.06 301h5.39v5.33h-5.39zM1146.62 329.91h5.39v5.33h-5.39z"/>
<path fill="#74bd81" d="M1129.87 329.91h5.39v5.33h-5.39zM1129.87 305.13h5.39v5.33h-5.39zM1138.24 301h5.39v5.33h-5.39zM1142.43 334.04h5.39v5.33h-5.39zM1142.43 301h5.39v5.33h-5.39zM1146.62 325.78h5.39v5.33h-5.39zM1146.62 305.13h5.39v5.33h-5.39z"/>
<path fill="#95be71" d="M1129.87 325.78h5.39v5.33h-5.39zM1138.24 334.04h5.39v5.33h-5.39zM1142.43 329.91h5.39v5.33h-5.39zM1142.43 305.13h5.39v5.33h-5.39z"/>
<path fill="#b3bd65" d="M1129.87 321.65h5.39v5.33h-5.39zM1129.87 309.26h5.39v5.33h-5.39zM1134.06 334.04h5.39v5.33h-5.39zM1134.06 329.91h5.39v5.33h-5.39zM1134.06 305.13h5.39v5.33h-5.39zM1138.24 305.13h5.39v5.33h-5.39zM1146.62 321.65h5.39v5.33h-5.39zM1146.62 317.52h5.39v5.33h-5.39zM1146.62 313.39h5.39v5.33h-5.39z"/>
<path fill="#d1bb59" d="M1129.87 313.39h5.39v5.33h-5.39zM1134.06 309.26h5.39v5.33h-5.39zM1138.24 329.91h5.39v5.33h-5.39zM1142.43 325.78h5.39v5.33h-5.39z"/>
<path fill="#e2c04b" d="M1129.87 317.52h5.39v5.33h-5.39zM1134.06 325.78h5.39v5.33h-5.39zM1138.24 309.26h5.39v5.33h-5.39zM1142.43 321.65h5.39v5.33h-5.39zM1142.43 309.26h5.39v5.33h-5.39z"/>
<path fill="#f4c63b" d="M1134.06 313.39h5.39v5.33h-5.39zM1138.24 325.78h5.39v5.33h-5.39zM1142.43 317.52h5.39v5.33h-5.39zM1142.43 313.39h5.39v5.33h-5.39z"/>
<path fill="#fdd22b" d="M1134.06 321.65h5.39v5.33h-5.39z"/>
<path fill="#fbe61d" d="M1134.06 317.52h5.39v5.33h-5.39z"/>
<path fill="#f9f90f" d="M1138.24 321.65h5.39v5.33h-5.39zM1138.24 317.52h5.39v5.33h-5.39zM1138.24 313.39h5.39v5.33h-5.39z"/>
</g>
<path d="M125.84 632v-8.6M145.89 632v-8.6M165.93 632v-8.6M185.97 632v-8.6M206.02 632v-17M226.06 632v-8.6M246.1 632v-8.6M266.15 632v-8.6M286.19 632v-8.6M306.23 632v-17M326.28 632v-8.6M346.32 632v-8.6M366.36 632v-8.6M386.41 632v-8.6M406.45 632v-17M426.49 632v-8.6M446.54 632v-8.6M466.58 632v-8.6M486.62 632v-8.6M506.67 632v-17M526.71 632v-8.6M546.75 632v-8.6M566.8 632v-8.6M586.84 632v-8.6M606.88 632v-17M626.93 632v-8.6M646.97 632v-8.6M667.01 632v-8.6" fill="none" stroke="#000" stroke-width="2"/>
<rect x="667.4" y="600.73" width="39" height="32.28" fill="#263ea8"/>
<rect x="667.4" y="569.75" width="39" height="31.58" fill="#1652cd"/>
<rect x="667.4" y="538.77" width="39" height="31.58" fill="#1064dc"/>
<rect x="667.4" y="507.8" width="39" height="31.58" fill="#1272d9"/>
<rect x="667.4" y="476.82" width="39" height="31.58" fill="#1481d6"/>
<rect x="667.4" y="445.85" width="39" height="31.58" fill="#0e8fd1"/>
<rect x="667.4" y="414.87" width="39" height="31.58" fill="#099dcc"/>
<rect x="667.4" y="383.9" width="39" height="31.58" fill="#0da7c3"/>
<rect x="667.4" y="352.92" width="39" height="31.58" fill="#1eafb3"/>
<rect x="667.4" y="321.95" width="39" height="31.58" fill="#2eb7a4"/>
<rect x="667.4" y="290.97" width="39" height="31.58" fill="#52ba92"/>
<rect x="667.4" y="260" width="39" height="31.58" fill="#74bd81"/>
<rect x="667.4" y="229.02" width="39" height="31.58" fill="#95be71"/>
<rect x="667.4" y="198.05" width="39" height="31.58" fill="#b3bd65"/>
<rect x="667.4" y="167.07" width="39" height="31.58" fill="#d1bb59"/>
<rect x="667.4" y="136.1" width="39" height="31.58" fill="#e2c04b"/>
<rect x="667.4" y="105.12" width="39" height="31.58" fill="#f4c63b"/>
<rect x="667.4" y="74.15" width="39" height="31.58" fill="#fdd22b"/>
<rect x="667.4" y="43.17" width="39" height="31.58" fill="#fbe61d"/>
<rect x="667.4" y="12.2" width="39" height="31.58" fill="#f9f90f"/>
<path d="M105.8 633.05V12.5H667.4" fill="none" stroke="#000" stroke-width="2.1" stroke-linejoin="miter"/>
<path d="M105.8 632H667.4" fill="none" stroke="#000" stroke-width="2.1"/>
<path d="M686.4 632H708" fill="none" stroke="#000" stroke-width="2.1"/>
<path d="M706.7 11.5V633" fill="none" stroke="#000" stroke-width="2.7"/>
<path d="M105.8 616.51h10.4M105.8 601.02h10.4M105.8 585.54h10.4M105.8 570.05h10.4M105.8 554.56h20.6M105.8 539.08h10.4M105.8 523.59h10.4M105.8 508.1h10.4M105.8 492.61h10.4M105.8 477.12h20.6M105.8 461.64h10.4M105.8 446.15h10.4M105.8 430.66h10.4M105.8 415.17h10.4M105.8 399.69h20.6M105.8 384.2h10.4M105.8 368.71h10.4M105.8 353.23h10.4M105.8 337.74h10.4M105.8 322.25h20.6M105.8 306.76h10.4M105.8 291.27h10.4M105.8 275.79h10.4M105.8 260.3h10.4M105.8 244.81h20.6M105.8 229.33h10.4M105.8 213.84h10.4M105.8 198.35h10.4M105.8 182.86h10.4M105.8 167.38h20.6M105.8 151.89h10.4M105.8 136.4h10.4M105.8 120.91h10.4M105.8 105.42h10.4M105.8 89.94h20.6M105.8 74.45h10.4M105.8 58.96h10.4M105.8 43.47h10.4M105.8 27.99h10.4" fill="none" stroke="#000" stroke-width="2"/>
<path d="M706.7 632h-20.5M706.7 552.09h-20.5M706.7 472.17h-20.5M706.7 392.26h-20.5M706.7 312.34h-20.5M706.7 232.43h-20.5M706.7 152.51h-20.5M706.7 72.6h-20.5" fill="none" stroke="#000" stroke-width="2"/>
<g font-size="37" fill="#000" stroke="#000" stroke-width="0.5" stroke-linejoin="round"><text x="102" y="645.9" text-anchor="end">4</text><text x="102" y="568.46" text-anchor="end">4.5</text><text x="102" y="491.02" text-anchor="end">5</text><text x="102" y="413.59" text-anchor="end">5.5</text><text x="102" y="336.15" text-anchor="end">6</text><text x="102" y="258.71" text-anchor="end">6.5</text><text x="102" y="181.28" text-anchor="end">7</text><text x="102" y="103.84" text-anchor="end">7.5</text><text x="102" y="26.4" text-anchor="end">8</text><text x="106.6" y="672.2" font-size="36" text-anchor="middle">1.55</text><text x="206.82" y="672.2" font-size="36" text-anchor="middle">1.6</text><text x="307.03" y="672.2" font-size="36" text-anchor="middle">1.65</text><text x="407.25" y="672.2" font-size="36" text-anchor="middle">1.7</text><text x="507.47" y="672.2" font-size="36" text-anchor="middle">1.75</text><text x="607.68" y="672.2" font-size="36" text-anchor="middle">1.8</text><text x="707.9" y="672.2" font-size="36" text-anchor="middle">1.85</text><text x="709.6" y="645.8" font-size="36">0</text><text x="709.6" y="565.89" font-size="36">50</text><text x="709.6" y="485.97" font-size="36">100</text><text x="709.6" y="406.06" font-size="36">150</text><text x="709.6" y="326.14" font-size="36">200</text><text x="709.6" y="246.23" font-size="36">250</text><text x="709.6" y="166.31" font-size="36">300</text><text x="709.6" y="86.4" font-size="36">350</text></g>
<text x="407.5" y="708.6" font-size="36.6" stroke="#000" stroke-width="0.5" stroke-linejoin="round" text-anchor="middle">Mass-over-charge ratio A/Q</text>
<text transform="translate(28.2 321.25) rotate(-90)" font-size="36.6" stroke="#000" stroke-width="0.5" stroke-linejoin="round" text-anchor="middle">Atomic number Z</text>
<text transform="translate(811 9) rotate(-90)" font-size="37.2" stroke="#000" stroke-width="0.5" stroke-linejoin="round" text-anchor="end">Counts (a.u.)</text>
<path d="M997.64 632v-8.6M1015.57 632v-8.6M1033.51 632v-8.6M1051.45 632v-8.6M1069.39 632v-17M1087.32 632v-8.6M1105.26 632v-8.6M1123.2 632v-8.6M1141.13 632v-8.6M1159.07 632v-17M1177.01 632v-8.6M1194.95 632v-8.6M1212.88 632v-8.6M1230.82 632v-8.6M1248.76 632v-17M1266.69 632v-8.6M1284.63 632v-8.6M1302.57 632v-8.6M1320.51 632v-8.6M1338.44 632v-17M1356.38 632v-8.6M1374.32 632v-8.6M1392.25 632v-8.6M1410.19 632v-8.6M1428.13 632v-17M1446.07 632v-8.6M1464 632v-8.6M1481.94 632v-8.6M1499.88 632v-8.6M1517.81 632v-17M1535.75 632v-8.6M1553.69 632v-8.6" fill="none" stroke="#000" stroke-width="2"/>
<rect x="1568.4" y="600.73" width="39" height="32.28" fill="#263ea8"/>
<rect x="1568.4" y="569.75" width="39" height="31.58" fill="#1652cd"/>
<rect x="1568.4" y="538.77" width="39" height="31.58" fill="#1064dc"/>
<rect x="1568.4" y="507.8" width="39" height="31.58" fill="#1272d9"/>
<rect x="1568.4" y="476.82" width="39" height="31.58" fill="#1481d6"/>
<rect x="1568.4" y="445.85" width="39" height="31.58" fill="#0e8fd1"/>
<rect x="1568.4" y="414.87" width="39" height="31.58" fill="#099dcc"/>
<rect x="1568.4" y="383.9" width="39" height="31.58" fill="#0da7c3"/>
<rect x="1568.4" y="352.92" width="39" height="31.58" fill="#1eafb3"/>
<rect x="1568.4" y="321.95" width="39" height="31.58" fill="#2eb7a4"/>
<rect x="1568.4" y="290.97" width="39" height="31.58" fill="#52ba92"/>
<rect x="1568.4" y="260" width="39" height="31.58" fill="#74bd81"/>
<rect x="1568.4" y="229.02" width="39" height="31.58" fill="#95be71"/>
<rect x="1568.4" y="198.05" width="39" height="31.58" fill="#b3bd65"/>
<rect x="1568.4" y="167.07" width="39" height="31.58" fill="#d1bb59"/>
<rect x="1568.4" y="136.1" width="39" height="31.58" fill="#e2c04b"/>
<rect x="1568.4" y="105.12" width="39" height="31.58" fill="#f4c63b"/>
<rect x="1568.4" y="74.15" width="39" height="31.58" fill="#fdd22b"/>
<rect x="1568.4" y="43.17" width="39" height="31.58" fill="#fbe61d"/>
<rect x="1568.4" y="12.2" width="39" height="31.58" fill="#f9f90f"/>
<path d="M979.7 633.05V12.5H1568.4" fill="none" stroke="#000" stroke-width="2.1" stroke-linejoin="miter"/>
<path d="M979.7 632H1568.4" fill="none" stroke="#000" stroke-width="2.1"/>
<path d="M1587.4 632H1609" fill="none" stroke="#000" stroke-width="2.1"/>
<path d="M1607.8 11.5V633" fill="none" stroke="#000" stroke-width="2.3"/>
<path d="M979.7 616.51h10.4M979.7 601.02h10.4M979.7 585.54h10.4M979.7 570.05h10.4M979.7 554.56h20.6M979.7 539.08h10.4M979.7 523.59h10.4M979.7 508.1h10.4M979.7 492.61h10.4M979.7 477.12h20.6M979.7 461.64h10.4M979.7 446.15h10.4M979.7 430.66h10.4M979.7 415.17h10.4M979.7 399.69h20.6M979.7 384.2h10.4M979.7 368.71h10.4M979.7 353.23h10.4M979.7 337.74h10.4M979.7 322.25h20.6M979.7 306.76h10.4M979.7 291.27h10.4M979.7 275.79h10.4M979.7 260.3h10.4M979.7 244.81h20.6M979.7 229.33h10.4M979.7 213.84h10.4M979.7 198.35h10.4M979.7 182.86h10.4M979.7 167.38h20.6M979.7 151.89h10.4M979.7 136.4h10.4M979.7 120.91h10.4M979.7 105.42h10.4M979.7 89.94h20.6M979.7 74.45h10.4M979.7 58.96h10.4M979.7 43.47h10.4M979.7 27.99h10.4" fill="none" stroke="#000" stroke-width="2"/>
<path d="M1607.7 632h-20.5M1607.7 521.3h-20.5M1607.7 410.59h-20.5M1607.7 299.89h-20.5M1607.7 189.18h-20.5M1607.7 78.48h-20.5" fill="none" stroke="#000" stroke-width="2"/>
<g font-size="37" fill="#000" stroke="#000" stroke-width="0.5" stroke-linejoin="round"><text x="975.9" y="645.9" text-anchor="end">4</text><text x="975.9" y="568.46" text-anchor="end">4.5</text><text x="975.9" y="491.02" text-anchor="end">5</text><text x="975.9" y="413.59" text-anchor="end">5.5</text><text x="975.9" y="336.15" text-anchor="end">6</text><text x="975.9" y="258.71" text-anchor="end">6.5</text><text x="975.9" y="181.28" text-anchor="end">7</text><text x="975.9" y="103.84" text-anchor="end">7.5</text><text x="975.9" y="26.4" text-anchor="end">8</text><text x="979.3" y="672.2" font-size="36" text-anchor="middle">1.75</text><text x="1068.99" y="672.2" font-size="36" text-anchor="middle">1.8</text><text x="1158.67" y="672.2" font-size="36" text-anchor="middle">1.85</text><text x="1248.36" y="672.2" font-size="36" text-anchor="middle">1.9</text><text x="1338.04" y="672.2" font-size="36" text-anchor="middle">1.95</text><text x="1427.73" y="672.2" font-size="36" text-anchor="middle">2</text><text x="1517.41" y="672.2" font-size="36" text-anchor="middle">2.05</text><text x="1609.3" y="672.2" font-size="36" text-anchor="middle">2.1</text><text x="1611.2" y="646.4" font-size="36">0</text><text x="1611.2" y="535.7" font-size="36">50</text><text x="1611.2" y="424.99" font-size="36">100</text><text x="1611.2" y="314.29" font-size="36">150</text><text x="1611.2" y="203.58" font-size="36">200</text><text x="1611.2" y="92.88" font-size="36">250</text></g>
<text x="1293.5" y="708.6" font-size="36.6" stroke="#000" stroke-width="0.5" stroke-linejoin="round" text-anchor="middle">Mass-over-charge ratio A/Q</text>
<text transform="translate(899.8 321.25) rotate(-90)" font-size="36.6" stroke="#000" stroke-width="0.5" stroke-linejoin="round" text-anchor="middle">Atomic number Z</text>
<text transform="translate(1713.2 9.6) rotate(-90)" font-size="37.2" stroke="#000" stroke-width="0.5" stroke-linejoin="round" text-anchor="end">Counts (a.u.)</text>
<path fill="#000" d="M616.7 217.6H622.1V286.9H423.2V285.9H616.7z"/>
<rect x="417.2" y="211" width="199.3" height="74.7" fill="#f2f2f2" stroke="#000" stroke-width="2.4"/>
<path fill="#000" d="M616.7 283.6H622.1V343.4H425V339.2H616.7z"/>
<rect x="419" y="284.8" width="197.5" height="54.2" fill="#f2f2f2" stroke="#000" stroke-width="2.4"/>
<text transform="translate(467.48 248.23) scale(0.9595 1)" font-size="47.07" font-weight="bold">10</text>
<text transform="translate(516.86 280.27) scale(0.9064 1)" font-size="72.93" font-weight="bold">C</text>
<text transform="translate(423.28 322.35) scale(0.9851 1)" font-size="35.91" font-weight="bold">~ 99% pure</text>
<path fill="#000" d="M1396.4 227H1401.1V301.6H1205.7V300.6H1396.4z"/>
<rect x="1199.7" y="220.2" width="196.5" height="80.2" fill="#f2f2f2" stroke="#000" stroke-width="2.4"/>
<path fill="#000" d="M1396.1 299.1H1401.1V349.7H1205.7V345.4H1396.1z"/>
<rect x="1199.7" y="300.3" width="196.2" height="44.9" fill="#f2f2f2" stroke="#000" stroke-width="2.4"/>
<text transform="translate(1253.64 256.10) scale(0.8816 1)" font-size="46.55" font-weight="bold">11</text>
<text transform="translate(1295.43 284.90) scale(0.9243 1)" font-size="69.54" font-weight="bold">C</text>
<text transform="translate(1204.63 331.42) scale(0.9931 1)" font-size="34.59" font-weight="bold">~ 98% pure</text>
<path fill="#000" d="M1391.4 451.6H1396.5V508.6H1294.1V505.3H1391.4z"/>
<rect x="1287.4" y="447" width="103.8" height="58.1" fill="#f2f2f2" stroke="#000" stroke-width="2.4"/>
<path fill="#000" d="M1389.4 514.4H1394.7V548.4H1294.1V543.5H1389.4z"/>
<rect x="1287.4" y="508.5" width="101.8" height="34.8" fill="#f2f2f2" stroke="#000" stroke-width="2.4"/>
<text transform="translate(1305.96 471.00) scale(0.9805 1)" font-size="29.96" font-weight="bold">10</text>
<text transform="translate(1339.68 492.60) scale(0.9768 1)" font-size="45.82" font-weight="bold">B</text>
<text transform="translate(1301.89 535.29) scale(1.0000 1)" font-size="28.47" font-weight="bold">&lt; 1 %</text>
</svg>
</body>
</html>
